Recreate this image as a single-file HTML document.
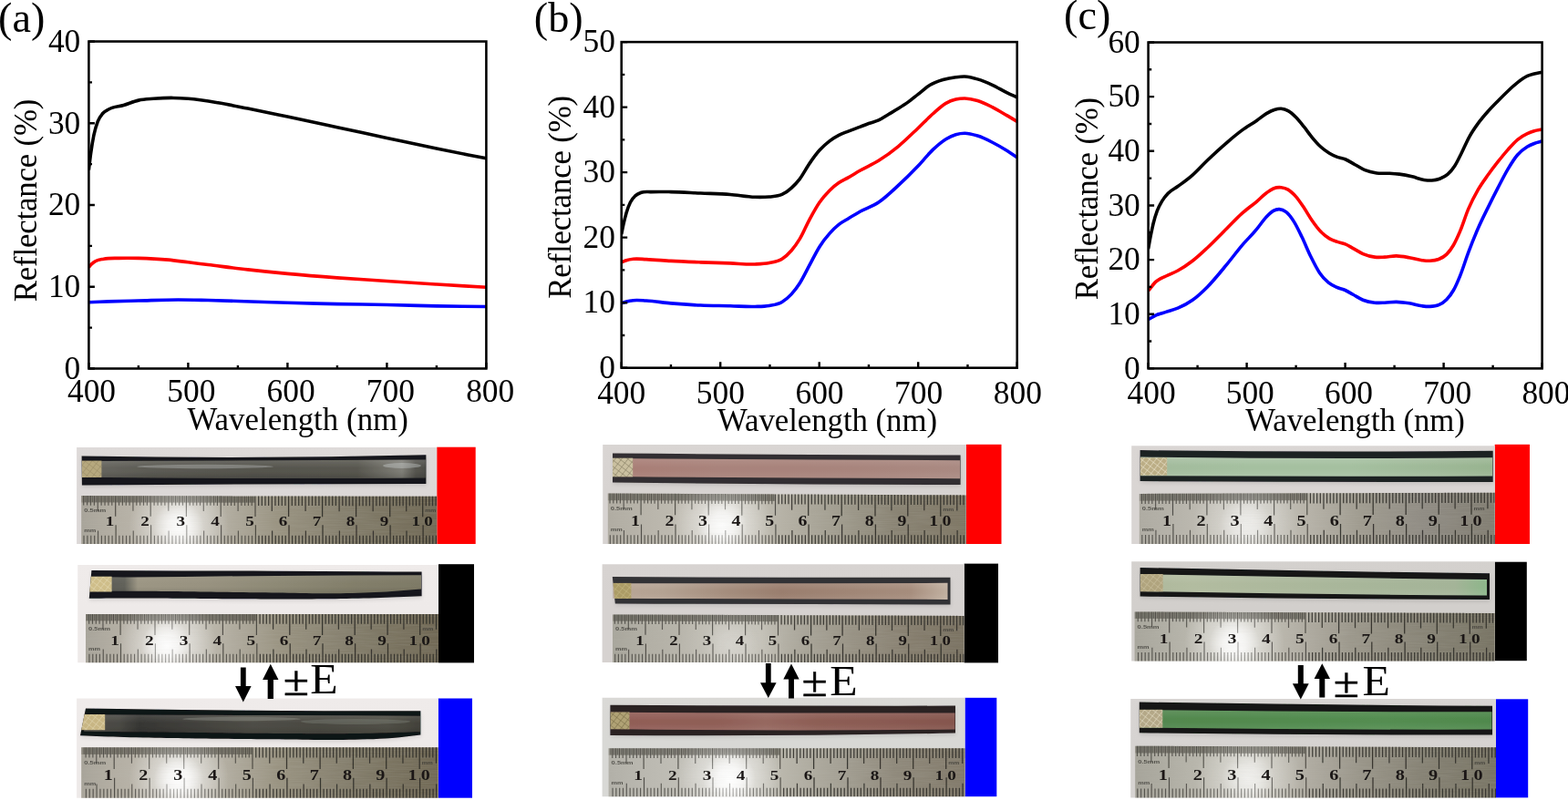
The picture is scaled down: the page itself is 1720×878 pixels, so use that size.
<!DOCTYPE html>
<html lang="en"><head><meta charset="utf-8"><title>Reflectance spectra and photographs</title>
<style>html,body{margin:0;padding:0;background:#fff;}body{width:1720px;height:878px;overflow:hidden;}svg{display:block;font-family:"Liberation Serif","DejaVu Serif",serif;}</style>
</head><body>
<svg width="1720" height="878" viewBox="0 0 1720 878">
<defs>
<filter id="soft" x="-2%" y="-5%" width="104%" height="110%"><feGaussianBlur stdDeviation="0.55"/></filter>
<filter id="grain" x="0" y="0" width="100%" height="100%"><feTurbulence type="fractalNoise" baseFrequency="0.035 0.9" numOctaves="2" seed="7" result="n"/><feColorMatrix in="n" type="matrix" values="0 0 0 0 0.5  0 0 0 0 0.5  0 0 0 0 0.45  0 0 0 1.6 -0.55"/><feComposite in2="SourceGraphic" operator="in"/></filter>
<filter id="shadow" x="-5%" y="-30%" width="110%" height="160%"><feGaussianBlur stdDeviation="2.2"/></filter>
<linearGradient id="bgp0" x1="0" y1="0" x2="0" y2="1"><stop offset="0" stop-color="#dedad9"/><stop offset="0.45" stop-color="#dcd8d7"/><stop offset="1" stop-color="#dcd8d7"/></linearGradient><linearGradient id="rgp0" gradientUnits="userSpaceOnUse" x1="89.2" y1="0" x2="479.2" y2="0"><stop offset="0" stop-color="#a8a49a"/><stop offset="0.08" stop-color="#b2ada2"/><stop offset="0.2" stop-color="#bcb7ac"/><stop offset="0.3" stop-color="#c4c0b6"/><stop offset="0.42" stop-color="#b0ab9e"/><stop offset="0.55" stop-color="#9a9482"/><stop offset="0.75" stop-color="#847e6c"/><stop offset="0.9" stop-color="#78715e"/><stop offset="1" stop-color="#706854"/></linearGradient><radialGradient id="rsp0" gradientUnits="userSpaceOnUse" cx="196" cy="578.55" r="55" gradientTransform="translate(196,578.55) scale(1,1.05) translate(-196,-578.55)"><stop offset="0" stop-color="#fff" stop-opacity="0.9"/><stop offset="0.22" stop-color="#fff" stop-opacity="0.72"/><stop offset="0.5" stop-color="#fff" stop-opacity="0.27"/><stop offset="1" stop-color="#fff" stop-opacity="0"/></radialGradient><linearGradient id="inp0" gradientUnits="userSpaceOnUse" x1="89.6" y1="0" x2="467.4" y2="0"><stop offset="0" stop-color="#6a6962"/><stop offset="0.08" stop-color="#64635c"/><stop offset="0.2" stop-color="#5c5b54"/><stop offset="0.5" stop-color="#56554e"/><stop offset="0.8" stop-color="#58574f"/><stop offset="0.93" stop-color="#807f78"/><stop offset="0.97" stop-color="#56554f"/><stop offset="1" stop-color="#4e4d48"/></linearGradient><linearGradient id="vsp0" x1="0" y1="0" x2="0" y2="1"><stop offset="0" stop-color="#fff" stop-opacity="0.12"/><stop offset="0.45" stop-color="#fff" stop-opacity="0"/><stop offset="0.62" stop-color="#000" stop-opacity="0"/><stop offset="1" stop-color="#000" stop-opacity="0.14"/></linearGradient><pattern id="meshp0" patternUnits="userSpaceOnUse" width="5.5" height="5.5" patternTransform="rotate(38)"><rect width="5.5" height="5.5" fill="#b6a87e"/><path d="M0,0H5.5M0,0V5.5" stroke="#8a7c58" stroke-width="1" opacity="0.7"/></pattern>
<linearGradient id="bgp1" x1="0" y1="0" x2="0" y2="1"><stop offset="0" stop-color="#efebea"/><stop offset="0.45" stop-color="#eeeae9"/><stop offset="1" stop-color="#eeeae9"/></linearGradient><linearGradient id="rgp1" gradientUnits="userSpaceOnUse" x1="94" y1="0" x2="481" y2="0"><stop offset="0" stop-color="#a8a49a"/><stop offset="0.08" stop-color="#b2ada2"/><stop offset="0.2" stop-color="#bcb7ac"/><stop offset="0.3" stop-color="#c4c0b6"/><stop offset="0.42" stop-color="#b0ab9e"/><stop offset="0.55" stop-color="#9a9482"/><stop offset="0.75" stop-color="#847e6c"/><stop offset="0.9" stop-color="#78715e"/><stop offset="1" stop-color="#706854"/></linearGradient><radialGradient id="rsp1" gradientUnits="userSpaceOnUse" cx="183" cy="708.6" r="55" gradientTransform="translate(183,708.6) scale(1,1.05) translate(-183,-708.6)"><stop offset="0" stop-color="#fff" stop-opacity="0.95"/><stop offset="0.22" stop-color="#fff" stop-opacity="0.76"/><stop offset="0.5" stop-color="#fff" stop-opacity="0.28"/><stop offset="1" stop-color="#fff" stop-opacity="0"/></radialGradient><linearGradient id="inp1" gradientUnits="userSpaceOnUse" x1="100.4" y1="0" x2="462.6" y2="0"><stop offset="0" stop-color="#5e5e58"/><stop offset="0.1" stop-color="#62625a"/><stop offset="0.14" stop-color="#9c9684"/><stop offset="0.35" stop-color="#989280"/><stop offset="0.55" stop-color="#8e8a76"/><stop offset="0.8" stop-color="#827e6a"/><stop offset="1" stop-color="#7e7a66"/></linearGradient><linearGradient id="vsp1" x1="0" y1="0" x2="0" y2="1"><stop offset="0" stop-color="#fff" stop-opacity="0.06"/><stop offset="0.45" stop-color="#fff" stop-opacity="0"/><stop offset="0.62" stop-color="#000" stop-opacity="0"/><stop offset="1" stop-color="#000" stop-opacity="0.1"/></linearGradient><pattern id="meshp1" patternUnits="userSpaceOnUse" width="5.5" height="5.5" patternTransform="rotate(38)"><rect width="5.5" height="5.5" fill="#cfbe8a"/><path d="M0,0H5.5M0,0V5.5" stroke="#f6f0d8" stroke-width="1" opacity="0.55"/></pattern>
<linearGradient id="bgp2" x1="0" y1="0" x2="0" y2="1"><stop offset="0" stop-color="#efebea"/><stop offset="0.45" stop-color="#eeeae9"/><stop offset="1" stop-color="#eeeae9"/></linearGradient><linearGradient id="rgp2" gradientUnits="userSpaceOnUse" x1="89.2" y1="0" x2="480.7" y2="0"><stop offset="0" stop-color="#a8a49a"/><stop offset="0.08" stop-color="#b2ada2"/><stop offset="0.2" stop-color="#bcb7ac"/><stop offset="0.3" stop-color="#c4c0b6"/><stop offset="0.42" stop-color="#b0ab9e"/><stop offset="0.55" stop-color="#9a9482"/><stop offset="0.75" stop-color="#847e6c"/><stop offset="0.9" stop-color="#78715e"/><stop offset="1" stop-color="#706854"/></linearGradient><radialGradient id="rsp2" gradientUnits="userSpaceOnUse" cx="196" cy="856" r="55" gradientTransform="translate(196,856) scale(1,1.05) translate(-196,-856)"><stop offset="0" stop-color="#fff" stop-opacity="0.95"/><stop offset="0.22" stop-color="#fff" stop-opacity="0.76"/><stop offset="0.5" stop-color="#fff" stop-opacity="0.28"/><stop offset="1" stop-color="#fff" stop-opacity="0"/></radialGradient><linearGradient id="inp2" gradientUnits="userSpaceOnUse" x1="94" y1="0" x2="461.4" y2="0"><stop offset="0" stop-color="#4e4d47"/><stop offset="0.1" stop-color="#4a4944"/><stop offset="0.16" stop-color="#363633"/><stop offset="0.3" stop-color="#403f3b"/><stop offset="0.5" stop-color="#4e4d46"/><stop offset="0.7" stop-color="#4a4942"/><stop offset="0.9" stop-color="#504f46"/><stop offset="1" stop-color="#42413a"/></linearGradient><linearGradient id="vsp2" x1="0" y1="0" x2="0" y2="1"><stop offset="0" stop-color="#fff" stop-opacity="0.1"/><stop offset="0.45" stop-color="#fff" stop-opacity="0"/><stop offset="0.62" stop-color="#000" stop-opacity="0"/><stop offset="1" stop-color="#000" stop-opacity="0.12"/></linearGradient><pattern id="meshp2" patternUnits="userSpaceOnUse" width="5.5" height="5.5" patternTransform="rotate(38)"><rect width="5.5" height="5.5" fill="#c8b684"/><path d="M0,0H5.5M0,0V5.5" stroke="#f4ecd0" stroke-width="1" opacity="0.6"/></pattern>
<linearGradient id="bgp3" x1="0" y1="0" x2="0" y2="1"><stop offset="0" stop-color="#d9d5d3"/><stop offset="0.45" stop-color="#d7d3d1"/><stop offset="1" stop-color="#d7d3d1"/></linearGradient><linearGradient id="rgp3" gradientUnits="userSpaceOnUse" x1="666.8" y1="0" x2="1059.7" y2="0"><stop offset="0" stop-color="#b0aca2"/><stop offset="0.1" stop-color="#b8b4aa"/><stop offset="0.25" stop-color="#c2beb4"/><stop offset="0.35" stop-color="#cac7bd"/><stop offset="0.5" stop-color="#b4b0a4"/><stop offset="0.65" stop-color="#a09c8e"/><stop offset="0.8" stop-color="#8a8474"/><stop offset="1" stop-color="#7e7664"/></linearGradient><radialGradient id="rsp3" gradientUnits="userSpaceOnUse" cx="792" cy="577.25" r="55" gradientTransform="translate(792,577.25) scale(1,1.05) translate(-792,-577.25)"><stop offset="0" stop-color="#fff" stop-opacity="0.9"/><stop offset="0.22" stop-color="#fff" stop-opacity="0.72"/><stop offset="0.5" stop-color="#fff" stop-opacity="0.27"/><stop offset="1" stop-color="#fff" stop-opacity="0"/></radialGradient><linearGradient id="inp3" gradientUnits="userSpaceOnUse" x1="672" y1="0" x2="1053.6" y2="0"><stop offset="0" stop-color="#a97d76"/><stop offset="0.12" stop-color="#a98078"/><stop offset="0.3" stop-color="#a9837b"/><stop offset="0.5" stop-color="#a8837b"/><stop offset="0.7" stop-color="#a8857d"/><stop offset="1" stop-color="#aa8a82"/></linearGradient><linearGradient id="vsp3" x1="0" y1="0" x2="0" y2="1"><stop offset="0" stop-color="#fff" stop-opacity="0.1"/><stop offset="0.45" stop-color="#fff" stop-opacity="0"/><stop offset="0.62" stop-color="#fff" stop-opacity="0"/><stop offset="1" stop-color="#fff" stop-opacity="0.07"/></linearGradient><pattern id="meshp3" patternUnits="userSpaceOnUse" width="5.5" height="5.5" patternTransform="rotate(38)"><rect width="5.5" height="5.5" fill="#cac0a0"/><path d="M0,0H5.5M0,0V5.5" stroke="#5a5038" stroke-width="0.9" opacity="0.7"/></pattern>
<linearGradient id="bgp4" x1="0" y1="0" x2="0" y2="1"><stop offset="0" stop-color="#d7d3d1"/><stop offset="0.45" stop-color="#d6d2d0"/><stop offset="1" stop-color="#d6d2d0"/></linearGradient><linearGradient id="rgp4" gradientUnits="userSpaceOnUse" x1="672" y1="0" x2="1057.7" y2="0"><stop offset="0" stop-color="#a8a69c"/><stop offset="0.1" stop-color="#b2afa5"/><stop offset="0.3" stop-color="#bebbb1"/><stop offset="0.42" stop-color="#c0bdb3"/><stop offset="0.55" stop-color="#a8a498"/><stop offset="0.7" stop-color="#969082"/><stop offset="0.85" stop-color="#867e6e"/><stop offset="1" stop-color="#7a7262"/></linearGradient><radialGradient id="rsp4" gradientUnits="userSpaceOnUse" cx="802" cy="708.7" r="60" gradientTransform="translate(802,708.7) scale(1,1.05) translate(-802,-708.7)"><stop offset="0" stop-color="#fff" stop-opacity="0.25"/><stop offset="0.22" stop-color="#fff" stop-opacity="0.2"/><stop offset="0.5" stop-color="#fff" stop-opacity="0.07"/><stop offset="1" stop-color="#fff" stop-opacity="0"/></radialGradient><linearGradient id="inp4" gradientUnits="userSpaceOnUse" x1="671.8" y1="0" x2="1042.5" y2="0"><stop offset="0" stop-color="#b8a696"/><stop offset="0.15" stop-color="#b4a292"/><stop offset="0.35" stop-color="#a48c7c"/><stop offset="0.5" stop-color="#9a7e6e"/><stop offset="0.7" stop-color="#a08676"/><stop offset="0.88" stop-color="#a68d7d"/><stop offset="1" stop-color="#c4b4a4"/></linearGradient><linearGradient id="vsp4" x1="0" y1="0" x2="0" y2="1"><stop offset="0" stop-color="#fff" stop-opacity="0.1"/><stop offset="0.45" stop-color="#fff" stop-opacity="0"/><stop offset="0.62" stop-color="#fff" stop-opacity="0"/><stop offset="1" stop-color="#fff" stop-opacity="0.07"/></linearGradient><pattern id="meshp4" patternUnits="userSpaceOnUse" width="5.5" height="5.5" patternTransform="rotate(38)"><rect width="5.5" height="5.5" fill="#ac9c66"/><path d="M0,0H5.5M0,0V5.5" stroke="#d8cc98" stroke-width="1" opacity="0.6"/></pattern>
<linearGradient id="bgp5" x1="0" y1="0" x2="0" y2="1"><stop offset="0" stop-color="#dad9d6"/><stop offset="0.45" stop-color="#d8d8d5"/><stop offset="1" stop-color="#d8d8d5"/></linearGradient><linearGradient id="rgp5" gradientUnits="userSpaceOnUse" x1="667.6" y1="0" x2="1058.5" y2="0"><stop offset="0" stop-color="#b2b0a8"/><stop offset="0.1" stop-color="#bab8b0"/><stop offset="0.25" stop-color="#c4c2ba"/><stop offset="0.35" stop-color="#cccac2"/><stop offset="0.5" stop-color="#b8b5aa"/><stop offset="0.65" stop-color="#a4a094"/><stop offset="0.8" stop-color="#908a7c"/><stop offset="1" stop-color="#827a6a"/></linearGradient><radialGradient id="rsp5" gradientUnits="userSpaceOnUse" cx="800" cy="855.75" r="58" gradientTransform="translate(800,855.75) scale(1,1.05) translate(-800,-855.75)"><stop offset="0" stop-color="#fff" stop-opacity="0.97"/><stop offset="0.22" stop-color="#fff" stop-opacity="0.78"/><stop offset="0.5" stop-color="#fff" stop-opacity="0.29"/><stop offset="1" stop-color="#fff" stop-opacity="0"/></radialGradient><linearGradient id="inp5" gradientUnits="userSpaceOnUse" x1="669.4" y1="0" x2="1048" y2="0"><stop offset="0" stop-color="#905d56"/><stop offset="0.12" stop-color="#915e57"/><stop offset="0.3" stop-color="#8f5e56"/><stop offset="0.45" stop-color="#966860"/><stop offset="0.6" stop-color="#8d5e55"/><stop offset="0.8" stop-color="#8a5a52"/><stop offset="1" stop-color="#85564e"/></linearGradient><linearGradient id="vsp5" x1="0" y1="0" x2="0" y2="1"><stop offset="0" stop-color="#fff" stop-opacity="0.1"/><stop offset="0.45" stop-color="#fff" stop-opacity="0"/><stop offset="0.62" stop-color="#fff" stop-opacity="0"/><stop offset="1" stop-color="#fff" stop-opacity="0.07"/></linearGradient><pattern id="meshp5" patternUnits="userSpaceOnUse" width="5.5" height="5.5" patternTransform="rotate(38)"><rect width="5.5" height="5.5" fill="#b0a274"/><path d="M0,0H5.5M0,0V5.5" stroke="#5c5030" stroke-width="1" opacity="0.7"/></pattern>
<linearGradient id="bgp6" x1="0" y1="0" x2="0" y2="1"><stop offset="0" stop-color="#dad6d4"/><stop offset="0.45" stop-color="#d9d5d3"/><stop offset="1" stop-color="#d9d5d3"/></linearGradient><linearGradient id="rgp6" gradientUnits="userSpaceOnUse" x1="1249.8" y1="0" x2="1639.7" y2="0"><stop offset="0" stop-color="#aeaba2"/><stop offset="0.1" stop-color="#b6b3aa"/><stop offset="0.22" stop-color="#c2bfb6"/><stop offset="0.32" stop-color="#cccac2"/><stop offset="0.48" stop-color="#b6b2a8"/><stop offset="0.62" stop-color="#a09c90"/><stop offset="0.8" stop-color="#908c84"/><stop offset="1" stop-color="#827e72"/></linearGradient><radialGradient id="rsp6" gradientUnits="userSpaceOnUse" cx="1366" cy="577.45" r="58" gradientTransform="translate(1366,577.45) scale(1,1.05) translate(-1366,-577.45)"><stop offset="0" stop-color="#fff" stop-opacity="0.55"/><stop offset="0.22" stop-color="#fff" stop-opacity="0.44"/><stop offset="0.5" stop-color="#fff" stop-opacity="0.17"/><stop offset="1" stop-color="#fff" stop-opacity="0"/></radialGradient><linearGradient id="inp6" gradientUnits="userSpaceOnUse" x1="1250.6" y1="0" x2="1637.7" y2="0"><stop offset="0" stop-color="#a2ba9c"/><stop offset="0.3" stop-color="#a5c0a0"/><stop offset="0.6" stop-color="#a5c0a0"/><stop offset="0.85" stop-color="#9eb897"/><stop offset="1" stop-color="#98b490"/></linearGradient><linearGradient id="vsp6" x1="0" y1="0" x2="0" y2="1"><stop offset="0" stop-color="#fff" stop-opacity="0.16"/><stop offset="0.45" stop-color="#fff" stop-opacity="0"/><stop offset="0.62" stop-color="#fff" stop-opacity="0"/><stop offset="1" stop-color="#fff" stop-opacity="0.1"/></linearGradient><pattern id="meshp6" patternUnits="userSpaceOnUse" width="5.5" height="5.5" patternTransform="rotate(38)"><rect width="5.5" height="5.5" fill="#bcae86"/><path d="M0,0H5.5M0,0V5.5" stroke="#f6f2e0" stroke-width="0.9" opacity="0.9"/></pattern>
<linearGradient id="bgp7" x1="0" y1="0" x2="0" y2="1"><stop offset="0" stop-color="#d4d1ce"/><stop offset="0.45" stop-color="#d2cfcc"/><stop offset="1" stop-color="#d2cfcc"/></linearGradient><linearGradient id="rgp7" gradientUnits="userSpaceOnUse" x1="1244.6" y1="0" x2="1639.7" y2="0"><stop offset="0" stop-color="#a8a69c"/><stop offset="0.1" stop-color="#b2b0a6"/><stop offset="0.2" stop-color="#bebcb2"/><stop offset="0.3" stop-color="#c8c6bc"/><stop offset="0.45" stop-color="#b4b0a6"/><stop offset="0.6" stop-color="#9c988c"/><stop offset="0.8" stop-color="#888476"/><stop offset="1" stop-color="#787464"/></linearGradient><radialGradient id="rsp7" gradientUnits="userSpaceOnUse" cx="1354" cy="706.5" r="55" gradientTransform="translate(1354,706.5) scale(1,1.05) translate(-1354,-706.5)"><stop offset="0" stop-color="#fff" stop-opacity="0.9"/><stop offset="0.22" stop-color="#fff" stop-opacity="0.72"/><stop offset="0.5" stop-color="#fff" stop-opacity="0.27"/><stop offset="1" stop-color="#fff" stop-opacity="0"/></radialGradient><linearGradient id="inp7" gradientUnits="userSpaceOnUse" x1="1250.6" y1="0" x2="1634" y2="0"><stop offset="0" stop-color="#aeb89c"/><stop offset="0.15" stop-color="#b2bca0"/><stop offset="0.4" stop-color="#acb89c"/><stop offset="0.6" stop-color="#a8b69a"/><stop offset="0.9" stop-color="#a4b498"/><stop offset="1" stop-color="#8ab688"/></linearGradient><linearGradient id="vsp7" x1="0" y1="0" x2="0" y2="1"><stop offset="0" stop-color="#fff" stop-opacity="0.1"/><stop offset="0.45" stop-color="#fff" stop-opacity="0"/><stop offset="0.62" stop-color="#fff" stop-opacity="0"/><stop offset="1" stop-color="#fff" stop-opacity="0.07"/></linearGradient><pattern id="meshp7" patternUnits="userSpaceOnUse" width="5.5" height="5.5" patternTransform="rotate(38)"><rect width="5.5" height="5.5" fill="#b0a47e"/><path d="M0,0H5.5M0,0V5.5" stroke="#e4dcc0" stroke-width="1" opacity="0.55"/></pattern>
<linearGradient id="bgp8" x1="0" y1="0" x2="0" y2="1"><stop offset="0" stop-color="#d8d5d3"/><stop offset="0.45" stop-color="#d6d3d1"/><stop offset="1" stop-color="#d6d3d1"/></linearGradient><linearGradient id="rgp8" gradientUnits="userSpaceOnUse" x1="1245.2" y1="0" x2="1641" y2="0"><stop offset="0" stop-color="#a6a49a"/><stop offset="0.1" stop-color="#b0aea4"/><stop offset="0.22" stop-color="#bebcb2"/><stop offset="0.33" stop-color="#cac8be"/><stop offset="0.48" stop-color="#b0aca2"/><stop offset="0.62" stop-color="#9a968a"/><stop offset="0.8" stop-color="#868274"/><stop offset="1" stop-color="#787464"/></linearGradient><radialGradient id="rsp8" gradientUnits="userSpaceOnUse" cx="1369" cy="855.05" r="58" gradientTransform="translate(1369,855.05) scale(1,1.05) translate(-1369,-855.05)"><stop offset="0" stop-color="#fff" stop-opacity="0.6"/><stop offset="0.22" stop-color="#fff" stop-opacity="0.48"/><stop offset="0.5" stop-color="#fff" stop-opacity="0.18"/><stop offset="1" stop-color="#fff" stop-opacity="0"/></radialGradient><linearGradient id="inp8" gradientUnits="userSpaceOnUse" x1="1249.8" y1="0" x2="1637" y2="0"><stop offset="0" stop-color="#548651"/><stop offset="0.15" stop-color="#52894e"/><stop offset="0.4" stop-color="#528b4f"/><stop offset="0.7" stop-color="#548d51"/><stop offset="1" stop-color="#50894d"/></linearGradient><linearGradient id="vsp8" x1="0" y1="0" x2="0" y2="1"><stop offset="0" stop-color="#fff" stop-opacity="0.1"/><stop offset="0.45" stop-color="#fff" stop-opacity="0"/><stop offset="0.62" stop-color="#fff" stop-opacity="0"/><stop offset="1" stop-color="#fff" stop-opacity="0.07"/></linearGradient><pattern id="meshp8" patternUnits="userSpaceOnUse" width="5.5" height="5.5" patternTransform="rotate(38)"><rect width="5.5" height="5.5" fill="#b4a888"/><path d="M0,0H5.5M0,0V5.5" stroke="#f0ead4" stroke-width="1" opacity="0.85"/></pattern>
</defs>
<rect width="1720" height="878" fill="#fff"/>
<g>
<rect x="479.2" y="490.7" width="42.5" height="106.3" fill="#ff0000"/>
<clipPath id="cp0"><rect x="84.1" y="491.1" width="395.1" height="105.9"/></clipPath>
<g clip-path="url(#cp0)">
<rect x="82.1" y="489.1" width="399.1" height="109.9" fill="url(#bgp0)"/>
<g filter="url(#soft)">
<path d="M89.2,544.1L482.2,544.8L482.2,600L89.2,600Z" fill="url(#rgp0)"/>
<path d="M89.2,544.1L482.2,544.8L482.2,600L89.2,600Z" fill="url(#rsp0)"/>
<path d="M89.2,544.1L482.2,544.8L482.2,600L89.2,600Z" fill="#000" filter="url(#grain)" opacity="0.16"/>
<path d="M89.2,544.1L280,544.44L280,551.8L89.2,551.46Z" fill="#4a463c" opacity="0.30"/>
<path d="M93.65,544.11v7.09M97.54,544.11v7.09M101.42,544.12v7.09M105.31,544.13v7.09M109.2,544.14v7.09M113.09,544.14v7.09M116.98,544.15v7.09M120.87,544.16v7.09M124.76,544.16v7.09M128.62,544.17v7.09M132.47,544.18v7.09M136.32,544.18v7.09M140.18,544.19v7.09M144.03,544.2v7.09M147.88,544.21v7.09M151.72,544.21v7.09M155.57,544.22v7.09M159.43,544.23v7.09M163.28,544.23v7.09M167.16,544.24v7.09M171.08,544.25v7.09M175,544.25v7.09M178.92,544.26v7.09M182.84,544.27v7.09M186.76,544.28v7.09M190.68,544.28v7.09M194.6,544.29v7.09M198.52,544.3v7.09M202.44,544.3v7.09M206.29,544.31v7.09M210.07,544.32v7.09M213.85,544.32v7.09M217.63,544.33v7.09M221.41,544.34v7.09M225.19,544.34v7.09M228.97,544.35v7.09M232.75,544.36v7.09M236.53,544.36v7.09M240.31,544.37v7.09M244.09,544.38v7.09M247.87,544.38v7.09M251.65,544.39v7.09M255.43,544.4v7.09M259.21,544.41v7.09M262.99,544.41v7.09M266.77,544.42v7.09M270.55,544.43v7.09M274.33,544.43v7.09M278.11,544.44v7.09" stroke="#2c2b26" stroke-width="1.0" opacity="0.5" fill="none"/>
<path d="M91.7,544.1v10.51M92,598v-10.35M95.59,544.11v10.51M95.89,598v-10.35M99.48,544.12v10.51M99.78,598v-10.35M103.37,544.13v10.51M103.67,598v-10.35M111.15,544.14v10.51M111.45,598v-10.35M115.03,544.15v10.51M115.33,598v-10.35M118.92,544.15v10.51M119.22,598v-10.35M122.81,544.16v10.51M123.11,598v-10.35M130.55,544.17v10.51M130.85,598v-10.35M134.4,544.18v10.51M134.7,598v-10.35M138.25,544.19v10.51M138.55,598v-10.35M142.1,544.19v10.51M142.4,598v-10.35M149.8,544.21v10.51M150.1,598v-10.35M153.65,544.22v10.51M153.95,598v-10.35M157.5,544.22v10.51M157.8,598v-10.35M161.35,544.23v10.51M161.65,598v-10.35M169.12,544.24v10.51M169.42,598v-10.35M173.04,544.25v10.51M173.34,598v-10.35M176.96,544.26v10.51M177.26,598v-10.35M180.88,544.26v10.51M181.18,598v-10.35M188.72,544.28v10.51M189.02,598v-10.35M192.64,544.29v10.51M192.94,598v-10.35M196.56,544.29v10.51M196.86,598v-10.35M200.48,544.3v10.51M200.78,598v-10.35M208.18,544.31v10.51M208.48,598v-10.35M211.96,544.32v10.51M212.26,598v-10.35M215.74,544.33v10.51M216.04,598v-10.35M219.52,544.33v10.51M219.82,598v-10.35M227.08,544.35v10.51M227.38,598v-10.35M230.86,544.35v10.51M231.16,598v-10.35M234.64,544.36v10.51M234.94,598v-10.35M238.42,544.37v10.51M238.72,598v-10.35M245.98,544.38v10.51M246.28,598v-10.35M249.76,544.39v10.51M250.06,598v-10.35M253.54,544.39v10.51M253.84,598v-10.35M257.32,544.4v10.51M257.62,598v-10.35M264.88,544.42v10.51M265.18,598v-10.35M268.66,544.42v10.51M268.96,598v-10.35M272.44,544.43v10.51M272.74,598v-10.35M276.22,544.44v10.51M276.52,598v-10.35M107.26,544.13v16.55M107.56,598v-15.45M145.95,544.2v16.55M146.25,598v-15.45M184.8,544.27v16.55M185.1,598v-15.45M223.3,544.34v16.55M223.6,598v-15.45M261.1,544.41v16.55M261.4,598v-15.45" stroke="#2c2b26" stroke-width="1.15" opacity="0.66" fill="none"/>
<path d="M126.7,544.17v22.6M127.1,598v-21.76M165.2,544.24v22.6M165.6,598v-21.76M204.4,544.31v22.6M204.8,598v-21.76M242.2,544.37v22.6M242.6,598v-21.76M280,544.44v22.6M280.4,598v-21.76" stroke="#2c2b26" stroke-width="1.15" opacity="0.74" fill="none"/>
<path d="M283.66,544.45v10.51M283.96,598v-10.35M287.32,544.46v10.51M287.62,598v-10.35M290.98,544.46v10.51M291.28,598v-10.35M294.64,544.47v10.51M294.94,598v-10.35M301.96,544.48v10.51M302.26,598v-10.35M305.62,544.49v10.51M305.92,598v-10.35M309.28,544.5v10.51M309.58,598v-10.35M312.94,544.5v10.51M313.24,598v-10.35M320.3,544.51v10.51M320.6,598v-10.35M324,544.52v10.51M324.3,598v-10.35M327.7,544.53v10.51M328,598v-10.35M331.4,544.53v10.51M331.7,598v-10.35M338.8,544.55v10.51M339.1,598v-10.35M342.5,544.55v10.51M342.8,598v-10.35M346.2,544.56v10.51M346.5,598v-10.35M349.9,544.57v10.51M350.2,598v-10.35M357.3,544.58v10.51M357.6,598v-10.35M361,544.59v10.51M361.3,598v-10.35M364.7,544.59v10.51M365,598v-10.35M368.4,544.6v10.51M368.7,598v-10.35M375.8,544.61v10.51M376.1,598v-10.35M379.5,544.62v10.51M379.8,598v-10.35M383.2,544.63v10.51M383.5,598v-10.35M386.9,544.63v10.51M387.2,598v-10.35M394.31,544.65v10.51M394.61,598v-10.35M398.02,544.65v10.51M398.32,598v-10.35M401.73,544.66v10.51M402.03,598v-10.35M405.44,544.67v10.51M405.74,598v-10.35M412.86,544.68v10.51M413.16,598v-10.35M416.57,544.69v10.51M416.87,598v-10.35M420.28,544.69v10.51M420.58,598v-10.35M423.99,544.7v10.51M424.29,598v-10.35M431.3,544.71v10.51M431.6,598v-10.35M434.9,544.72v10.51M435.2,598v-10.35M438.5,544.73v10.51M438.8,598v-10.35M442.1,544.73v10.51M442.4,598v-10.35M449.3,544.75v10.51M449.6,598v-10.35M452.9,544.75v10.51M453.2,598v-10.35M456.5,544.76v10.51M456.8,598v-10.35M460.1,544.77v10.51M460.4,598v-10.35M467.3,544.78v10.51M467.6,598v-10.35M470.9,544.79v10.51M471.2,598v-10.35M474.5,544.79v10.51M474.8,598v-10.35M478.1,544.8v10.51M478.4,598v-10.35M298.3,544.48v16.55M298.6,598v-15.45M335.1,544.54v16.55M335.4,598v-15.45M372.1,544.61v16.55M372.4,598v-15.45M409.15,544.67v16.55M409.45,598v-15.45M445.7,544.74v16.55M446,598v-15.45" stroke="#2c2b26" stroke-width="1.25" opacity="0.86" fill="none"/>
<path d="M316.6,544.51v22.6M317,598v-21.76M353.6,544.57v22.6M354,598v-21.76M390.6,544.64v22.6M391,598v-21.76M427.7,544.71v22.6M428.1,598v-21.76M463.7,544.77v22.6M464.1,598v-21.76" stroke="#2c2b26" stroke-width="1.25" opacity="0.9" fill="none"/>
<path d="M89.2,544.1L482.2,544.8L482.2,600L89.2,600Z" fill="url(#rsp0)" opacity="0.55"/>
<g font-family="'Liberation Serif','DejaVu Serif',serif" font-weight="bold" font-size="15.4" fill="#1a1917">
<text transform="translate(125.4,577.4) scale(1.24,1)" text-anchor="end">1</text>
<text transform="translate(163.9,577.4) scale(1.24,1)" text-anchor="end">2</text>
<text transform="translate(203.1,577.4) scale(1.24,1)" text-anchor="end">3</text>
<text transform="translate(240.9,577.4) scale(1.24,1)" text-anchor="end">4</text>
<text transform="translate(278.7,577.4) scale(1.24,1)" text-anchor="end">5</text>
<text transform="translate(315.3,577.4) scale(1.24,1)" text-anchor="end">6</text>
<text transform="translate(352.3,577.4) scale(1.24,1)" text-anchor="end">7</text>
<text transform="translate(389.3,577.4) scale(1.24,1)" text-anchor="end">8</text>
<text transform="translate(426.4,577.4) scale(1.24,1)" text-anchor="end">9</text>
<text transform="translate(461.1,577.4) scale(1.24,1)" text-anchor="end">1</text>
<text transform="translate(465.3,577.4) scale(1.24,1)">0</text>
</g>
<g font-family="'Liberation Sans',sans-serif" font-weight="bold" font-size="5.2" fill="#3a3934" opacity="0.8">
<text x="92.2" y="561.79" textLength="24" lengthAdjust="spacingAndGlyphs">0.5mm</text>
<text x="92.2" y="583.86" textLength="13" lengthAdjust="spacingAndGlyphs">mm</text>
<text x="466.2" y="562.32" textLength="12" lengthAdjust="spacingAndGlyphs">mm</text>
</g>
<path d="M89.6,500.4Q278.5,503.85 467.4,499.3L467.4,531.1Q278.5,531.05 89.9,532.6Z" fill="#000" opacity="0.10" transform="translate(0.5,2.2)" filter="url(#shadow)"/>
<path d="M89.6,500.4Q278.5,503.85 467.4,499.3L467.4,531.1Q278.5,531.05 89.9,532.6Z" fill="#15161a"/>
<path d="M90.2,506Q278.5,505.4 466.9,504.4L466.9,524.4Q278.5,525.85 90.2,523.7Z" fill="url(#inp0)"/>
<path d="M90.2,506Q278.5,505.4 466.9,504.4L466.9,524.4Q278.5,525.85 90.2,523.7Z" fill="url(#vsp0)"/>
<ellipse cx="225" cy="512" rx="75" ry="2.2" fill="#c8cccc" opacity="0.35"/>
<ellipse cx="441" cy="511" rx="21" ry="3" fill="#d8dcdc" opacity="0.35"/>
<clipPath id="scp0"><path d="M89.6,500.4Q278.5,503.85 467.4,499.3L467.4,531.1Q278.5,531.05 89.9,532.6Z"/></clipPath>
<rect x="89.6" y="505.6" width="21.8" height="18.4" fill="url(#meshp0)" clip-path="url(#scp0)"/>
</g>
</g>
</g>
<g>
<rect x="481" y="619.2" width="39" height="108.2" fill="#000000"/>
<clipPath id="cp1"><rect x="85.2" y="620" width="395.8" height="107.2"/></clipPath>
<g clip-path="url(#cp1)">
<rect x="83.2" y="618" width="399.8" height="111.2" fill="url(#bgp1)"/>
<g filter="url(#soft)">
<path d="M94,674L484,674L484,730.2L94,730.2Z" fill="url(#rgp1)"/>
<path d="M94,674L484,674L484,730.2L94,730.2Z" fill="url(#rsp1)"/>
<path d="M94,674L484,674L484,730.2L94,730.2Z" fill="#000" filter="url(#grain)" opacity="0.16"/>
<path d="M94,674L281.4,674L281.4,681.45L94,681.45Z" fill="#4a463c" opacity="0.30"/>
<path d="M95.73,674v7.18M99.56,674v7.18M103.39,674v7.18M107.22,674v7.18M111.05,674v7.18M114.87,674v7.18M118.7,674v7.18M122.53,674v7.18M126.36,674v7.18M130.19,674v7.18M134,674v7.18M137.78,674v7.18M141.57,674v7.18M145.37,674v7.18M149.16,674v7.18M152.94,674v7.18M156.74,674v7.18M160.53,674v7.18M164.31,674v7.18M168.11,674v7.18M171.89,674v7.18M175.66,674v7.18M179.43,674v7.18M183.19,674v7.18M186.97,674v7.18M190.74,674v7.18M194.5,674v7.18M198.27,674v7.18M202.04,674v7.18M205.81,674v7.18M209.53,674v7.18M213.21,674v7.18M216.88,674v7.18M220.54,674v7.18M224.22,674v7.18M227.89,674v7.18M231.56,674v7.18M235.22,674v7.18M238.9,674v7.18M242.56,674v7.18M246.25,674v7.18M249.95,674v7.18M253.65,674v7.18M257.35,674v7.18M261.05,674v7.18M264.75,674v7.18M268.45,674v7.18M272.15,674v7.18M275.85,674v7.18M279.55,674v7.18" stroke="#2c2b26" stroke-width="1.0" opacity="0.5" fill="none"/>
<path d="M97.65,674v10.64M97.95,728.2v-10.47M101.48,674v10.64M101.78,728.2v-10.47M105.3,674v10.64M105.6,728.2v-10.47M109.13,674v10.64M109.43,728.2v-10.47M116.79,674v10.64M117.09,728.2v-10.47M120.62,674v10.64M120.92,728.2v-10.47M124.44,674v10.64M124.74,728.2v-10.47M128.27,674v10.64M128.57,728.2v-10.47M135.89,674v10.64M136.19,728.2v-10.47M139.68,674v10.64M139.98,728.2v-10.47M143.47,674v10.64M143.77,728.2v-10.47M147.26,674v10.64M147.56,728.2v-10.47M154.84,674v10.64M155.14,728.2v-10.47M158.63,674v10.64M158.93,728.2v-10.47M162.42,674v10.64M162.72,728.2v-10.47M166.21,674v10.64M166.51,728.2v-10.47M173.77,674v10.64M174.07,728.2v-10.47M177.54,674v10.64M177.84,728.2v-10.47M181.31,674v10.64M181.61,728.2v-10.47M185.08,674v10.64M185.38,728.2v-10.47M192.62,674v10.64M192.92,728.2v-10.47M196.39,674v10.64M196.69,728.2v-10.47M200.16,674v10.64M200.46,728.2v-10.47M203.93,674v10.64M204.23,728.2v-10.47M211.37,674v10.64M211.67,728.2v-10.47M215.04,674v10.64M215.34,728.2v-10.47M218.71,674v10.64M219.01,728.2v-10.47M222.38,674v10.64M222.68,728.2v-10.47M229.72,674v10.64M230.02,728.2v-10.47M233.39,674v10.64M233.69,728.2v-10.47M237.06,674v10.64M237.36,728.2v-10.47M240.73,674v10.64M241.03,728.2v-10.47M248.1,674v10.64M248.4,728.2v-10.47M251.8,674v10.64M252.1,728.2v-10.47M255.5,674v10.64M255.8,728.2v-10.47M259.2,674v10.64M259.5,728.2v-10.47M266.6,674v10.64M266.9,728.2v-10.47M270.3,674v10.64M270.6,728.2v-10.47M274,674v10.64M274.3,728.2v-10.47M277.7,674v10.64M278,728.2v-10.47M112.96,674v16.76M113.26,728.2v-15.63M151.05,674v16.76M151.35,728.2v-15.63M188.85,674v16.76M189.15,728.2v-15.63M226.05,674v16.76M226.35,728.2v-15.63M262.9,674v16.76M263.2,728.2v-15.63" stroke="#2c2b26" stroke-width="1.15" opacity="0.66" fill="none"/>
<path d="M132.1,674v22.88M132.5,728.2v-22.01M170,674v22.88M170.4,728.2v-22.01M207.7,674v22.88M208.1,728.2v-22.01M244.4,674v22.88M244.8,728.2v-22.01M281.4,674v22.88M281.8,728.2v-22.01" stroke="#2c2b26" stroke-width="1.15" opacity="0.74" fill="none"/>
<path d="M285.04,674v10.64M285.34,728.2v-10.47M288.68,674v10.64M288.98,728.2v-10.47M292.32,674v10.64M292.62,728.2v-10.47M295.96,674v10.64M296.26,728.2v-10.47M303.24,674v10.64M303.54,728.2v-10.47M306.88,674v10.64M307.18,728.2v-10.47M310.52,674v10.64M310.82,728.2v-10.47M314.16,674v10.64M314.46,728.2v-10.47M321.38,674v10.64M321.68,728.2v-10.47M324.96,674v10.64M325.26,728.2v-10.47M328.54,674v10.64M328.84,728.2v-10.47M332.12,674v10.64M332.42,728.2v-10.47M339.28,674v10.64M339.58,728.2v-10.47M342.86,674v10.64M343.16,728.2v-10.47M346.44,674v10.64M346.74,728.2v-10.47M350.02,674v10.64M350.32,728.2v-10.47M357.16,674v10.64M357.46,728.2v-10.47M360.72,674v10.64M361.02,728.2v-10.47M364.28,674v10.64M364.58,728.2v-10.47M367.84,674v10.64M368.14,728.2v-10.47M374.96,674v10.64M375.26,728.2v-10.47M378.52,674v10.64M378.82,728.2v-10.47M382.08,674v10.64M382.38,728.2v-10.47M385.64,674v10.64M385.94,728.2v-10.47M392.79,674v10.64M393.09,728.2v-10.47M396.38,674v10.64M396.68,728.2v-10.47M399.97,674v10.64M400.27,728.2v-10.47M403.56,674v10.64M403.86,728.2v-10.47M410.74,674v10.64M411.04,728.2v-10.47M414.33,674v10.64M414.63,728.2v-10.47M417.92,674v10.64M418.22,728.2v-10.47M421.51,674v10.64M421.81,728.2v-10.47M428.66,674v10.64M428.96,728.2v-10.47M432.22,674v10.64M432.52,728.2v-10.47M435.78,674v10.64M436.08,728.2v-10.47M439.34,674v10.64M439.64,728.2v-10.47M446.46,674v10.64M446.76,728.2v-10.47M450.02,674v10.64M450.32,728.2v-10.47M453.58,674v10.64M453.88,728.2v-10.47M457.14,674v10.64M457.44,728.2v-10.47M464.26,674v10.64M464.56,728.2v-10.47M467.82,674v10.64M468.12,728.2v-10.47M471.38,674v10.64M471.68,728.2v-10.47M474.94,674v10.64M475.24,728.2v-10.47M299.6,674v16.76M299.9,728.2v-15.63M335.7,674v16.76M336,728.2v-15.63M371.4,674v16.76M371.7,728.2v-15.63M407.15,674v16.76M407.45,728.2v-15.63M442.9,674v16.76M443.2,728.2v-15.63M478.5,674v16.76M478.8,728.2v-15.63" stroke="#2c2b26" stroke-width="1.25" opacity="0.86" fill="none"/>
<path d="M317.8,674v22.88M318.2,728.2v-22.01M353.6,674v22.88M354,728.2v-22.01M389.2,674v22.88M389.6,728.2v-22.01M425.1,674v22.88M425.5,728.2v-22.01M460.7,674v22.88M461.1,728.2v-22.01" stroke="#2c2b26" stroke-width="1.25" opacity="0.9" fill="none"/>
<path d="M94,674L484,674L484,730.2L94,730.2Z" fill="url(#rsp1)" opacity="0.55"/>
<g font-family="'Liberation Serif','DejaVu Serif',serif" font-weight="bold" font-size="15.59" fill="#1a1917">
<text transform="translate(130.8,707.6) scale(1.24,1)" text-anchor="end">1</text>
<text transform="translate(168.7,707.6) scale(1.24,1)" text-anchor="end">2</text>
<text transform="translate(206.4,707.6) scale(1.24,1)" text-anchor="end">3</text>
<text transform="translate(243.1,707.6) scale(1.24,1)" text-anchor="end">4</text>
<text transform="translate(280.1,707.6) scale(1.24,1)" text-anchor="end">5</text>
<text transform="translate(316.5,707.6) scale(1.24,1)" text-anchor="end">6</text>
<text transform="translate(352.3,707.6) scale(1.24,1)" text-anchor="end">7</text>
<text transform="translate(387.9,707.6) scale(1.24,1)" text-anchor="end">8</text>
<text transform="translate(423.8,707.6) scale(1.24,1)" text-anchor="end">9</text>
<text transform="translate(458.1,707.6) scale(1.24,1)" text-anchor="end">1</text>
<text transform="translate(462.3,707.6) scale(1.24,1)">0</text>
</g>
<g font-family="'Liberation Sans',sans-serif" font-weight="bold" font-size="5.2" fill="#3a3934" opacity="0.8">
<text x="97" y="691.56" textLength="24" lengthAdjust="spacingAndGlyphs">0.5mm</text>
<text x="97" y="713.9" textLength="13" lengthAdjust="spacingAndGlyphs">mm</text>
<text x="463.2" y="692.09" textLength="12" lengthAdjust="spacingAndGlyphs">mm</text>
</g>
<path d="M100.4,626C133.6,626.17 166.8,626.38 200,626.5C234.67,626.62 269.33,626.57 304,626.7C336,626.82 368,627.04 400,627.2C420.87,627.3 441.73,627.4 462.6,627.5 L462.6,654.2 L456.08,654.49 L449.56,654.78 L443.04,655.07 L436.52,655.34 L430,655.6 L423.78,655.82 L417.56,656.03 L411.33,656.23 L405.11,656.41 L398.89,656.57 L392.67,656.73 L386.44,656.86 L380.22,656.99 L374,657.1 L367.64,657.19 L361.27,657.27 L354.91,657.32 L348.55,657.35 L342.18,657.38 L335.82,657.39 L329.45,657.39 L323.09,657.39 L316.73,657.39 L310.36,657.39 L304,657.4 L297.96,657.4 L291.93,657.4 L285.89,657.39 L279.86,657.37 L273.82,657.34 L267.79,657.31 L261.75,657.27 L255.71,657.22 L249.68,657.18 L243.64,657.13 L237.61,657.07 L231.57,657.02 L225.54,656.96 L219.5,656.91 L213.46,656.85 L207.43,656.8 L201.39,656.75 L195.36,656.7 L189.32,656.65 L183.29,656.61 L177.25,656.57 L171.21,656.54 L165.18,656.51 L159.14,656.49 L153.11,656.48 L147.07,656.48 L141.04,656.48 L135,656.5 L128.8,656.53 L122.6,656.56 L116.4,656.59 L110.2,656.63 L104,656.67 L97.8,656.7 Z" fill="#000" opacity="0.10" transform="translate(0.5,2.2)" filter="url(#shadow)"/>
<path d="M100.4,626C133.6,626.17 166.8,626.38 200,626.5C234.67,626.62 269.33,626.57 304,626.7C336,626.82 368,627.04 400,627.2C420.87,627.3 441.73,627.4 462.6,627.5 L462.6,654.2 L456.08,654.49 L449.56,654.78 L443.04,655.07 L436.52,655.34 L430,655.6 L423.78,655.82 L417.56,656.03 L411.33,656.23 L405.11,656.41 L398.89,656.57 L392.67,656.73 L386.44,656.86 L380.22,656.99 L374,657.1 L367.64,657.19 L361.27,657.27 L354.91,657.32 L348.55,657.35 L342.18,657.38 L335.82,657.39 L329.45,657.39 L323.09,657.39 L316.73,657.39 L310.36,657.39 L304,657.4 L297.96,657.4 L291.93,657.4 L285.89,657.39 L279.86,657.37 L273.82,657.34 L267.79,657.31 L261.75,657.27 L255.71,657.22 L249.68,657.18 L243.64,657.13 L237.61,657.07 L231.57,657.02 L225.54,656.96 L219.5,656.91 L213.46,656.85 L207.43,656.8 L201.39,656.75 L195.36,656.7 L189.32,656.65 L183.29,656.61 L177.25,656.57 L171.21,656.54 L165.18,656.51 L159.14,656.49 L153.11,656.48 L147.07,656.48 L141.04,656.48 L135,656.5 L128.8,656.53 L122.6,656.56 L116.4,656.59 L110.2,656.63 L104,656.67 L97.8,656.7 Z" fill="#16171c"/>
<path d="M99.8,633.2C111.53,633.27 123.27,633.36 135,633.4C191.33,633.58 247.67,632.25 304,631.9C356.67,631.57 409.33,631.5 462,631.3 L462,646.4 L455.6,646.94 L449.2,647.49 L442.8,648.03 L436.4,648.54 L430,649 L423.78,649.39 L417.56,649.74 L411.33,650.05 L405.11,650.32 L398.89,650.55 L392.67,650.76 L386.44,650.93 L380.22,651.08 L374,651.2 L367.64,651.28 L361.27,651.31 L354.91,651.29 L348.55,651.23 L342.18,651.14 L335.82,651.03 L329.45,650.92 L323.09,650.79 L316.73,650.68 L310.36,650.58 L304,650.5 L297.96,650.44 L291.93,650.37 L285.89,650.3 L279.86,650.22 L273.82,650.14 L267.79,650.06 L261.75,649.97 L255.71,649.89 L249.68,649.8 L243.64,649.71 L237.61,649.63 L231.57,649.54 L225.54,649.46 L219.5,649.38 L213.46,649.3 L207.43,649.22 L201.39,649.15 L195.36,649.08 L189.32,649.02 L183.29,648.97 L177.25,648.92 L171.21,648.87 L165.18,648.84 L159.14,648.81 L153.11,648.79 L147.07,648.79 L141.04,648.79 L135,648.8 L127.96,648.83 L120.92,648.87 L113.88,648.91 L106.84,648.96 L99.8,649 Z" fill="url(#inp1)"/>
<path d="M99.8,633.2C111.53,633.27 123.27,633.36 135,633.4C191.33,633.58 247.67,632.25 304,631.9C356.67,631.57 409.33,631.5 462,631.3 L462,646.4 L455.6,646.94 L449.2,647.49 L442.8,648.03 L436.4,648.54 L430,649 L423.78,649.39 L417.56,649.74 L411.33,650.05 L405.11,650.32 L398.89,650.55 L392.67,650.76 L386.44,650.93 L380.22,651.08 L374,651.2 L367.64,651.28 L361.27,651.31 L354.91,651.29 L348.55,651.23 L342.18,651.14 L335.82,651.03 L329.45,650.92 L323.09,650.79 L316.73,650.68 L310.36,650.58 L304,650.5 L297.96,650.44 L291.93,650.37 L285.89,650.3 L279.86,650.22 L273.82,650.14 L267.79,650.06 L261.75,649.97 L255.71,649.89 L249.68,649.8 L243.64,649.71 L237.61,649.63 L231.57,649.54 L225.54,649.46 L219.5,649.38 L213.46,649.3 L207.43,649.22 L201.39,649.15 L195.36,649.08 L189.32,649.02 L183.29,648.97 L177.25,648.92 L171.21,648.87 L165.18,648.84 L159.14,648.81 L153.11,648.79 L147.07,648.79 L141.04,648.79 L135,648.8 L127.96,648.83 L120.92,648.87 L113.88,648.91 L106.84,648.96 L99.8,649 Z" fill="url(#vsp1)"/>
<clipPath id="scp1"><path d="M100.4,626C133.6,626.17 166.8,626.38 200,626.5C234.67,626.62 269.33,626.57 304,626.7C336,626.82 368,627.04 400,627.2C420.87,627.3 441.73,627.4 462.6,627.5 L462.6,654.2 L456.08,654.49 L449.56,654.78 L443.04,655.07 L436.52,655.34 L430,655.6 L423.78,655.82 L417.56,656.03 L411.33,656.23 L405.11,656.41 L398.89,656.57 L392.67,656.73 L386.44,656.86 L380.22,656.99 L374,657.1 L367.64,657.19 L361.27,657.27 L354.91,657.32 L348.55,657.35 L342.18,657.38 L335.82,657.39 L329.45,657.39 L323.09,657.39 L316.73,657.39 L310.36,657.39 L304,657.4 L297.96,657.4 L291.93,657.4 L285.89,657.39 L279.86,657.37 L273.82,657.34 L267.79,657.31 L261.75,657.27 L255.71,657.22 L249.68,657.18 L243.64,657.13 L237.61,657.07 L231.57,657.02 L225.54,656.96 L219.5,656.91 L213.46,656.85 L207.43,656.8 L201.39,656.75 L195.36,656.7 L189.32,656.65 L183.29,656.61 L177.25,656.57 L171.21,656.54 L165.18,656.51 L159.14,656.49 L153.11,656.48 L147.07,656.48 L141.04,656.48 L135,656.5 L128.8,656.53 L122.6,656.56 L116.4,656.59 L110.2,656.63 L104,656.67 L97.8,656.7 Z"/></clipPath>
<rect x="97.8" y="632.7" width="24.8" height="16.8" fill="url(#meshp1)" clip-path="url(#scp1)"/>
</g>
</g>
</g>
<g>
<rect x="480.7" y="766.5" width="37.3" height="109.2" fill="#0000ff"/>
<clipPath id="cp2"><rect x="84.1" y="766.5" width="396.6" height="109.2"/></clipPath>
<g clip-path="url(#cp2)">
<rect x="82.1" y="764.5" width="400.6" height="113.2" fill="url(#bgp2)"/>
<g filter="url(#soft)">
<path d="M89.2,820.3L483.7,820.3L483.7,878.7L89.2,878.7Z" fill="url(#rgp2)"/>
<path d="M89.2,820.3L483.7,820.3L483.7,878.7L89.2,878.7Z" fill="url(#rsp2)"/>
<path d="M89.2,820.3L483.7,820.3L483.7,878.7L89.2,878.7Z" fill="#000" filter="url(#grain)" opacity="0.16"/>
<path d="M89.2,820.3L277,820.3L277,828.06L89.2,828.06Z" fill="#4a463c" opacity="0.30"/>
<path d="M92.15,820.3v7.48M96.04,820.3v7.48M99.92,820.3v7.48M103.81,820.3v7.48M107.7,820.3v7.48M111.59,820.3v7.48M115.48,820.3v7.48M119.37,820.3v7.48M123.26,820.3v7.48M127.12,820.3v7.48M130.97,820.3v7.48M134.82,820.3v7.48M138.68,820.3v7.48M142.53,820.3v7.48M146.38,820.3v7.48M150.22,820.3v7.48M154.07,820.3v7.48M157.93,820.3v7.48M161.78,820.3v7.48M165.6,820.3v7.48M169.4,820.3v7.48M173.2,820.3v7.48M177,820.3v7.48M180.8,820.3v7.48M184.6,820.3v7.48M188.4,820.3v7.48M192.2,820.3v7.48M196,820.3v7.48M199.8,820.3v7.48M203.6,820.3v7.48M207.4,820.3v7.48M211.2,820.3v7.48M215,820.3v7.48M218.8,820.3v7.48M222.6,820.3v7.48M226.4,820.3v7.48M230.2,820.3v7.48M234,820.3v7.48M237.8,820.3v7.48M241.56,820.3v7.48M245.3,820.3v7.48M249.02,820.3v7.48M252.76,820.3v7.48M256.49,820.3v7.48M260.21,820.3v7.48M263.94,820.3v7.48M267.68,820.3v7.48M271.41,820.3v7.48M275.13,820.3v7.48" stroke="#2c2b26" stroke-width="1.0" opacity="0.5" fill="none"/>
<path d="M94.09,820.3v11.08M94.39,876.7v-10.86M97.98,820.3v11.08M98.28,876.7v-10.86M101.87,820.3v11.08M102.17,876.7v-10.86M109.65,820.3v11.08M109.95,876.7v-10.86M113.53,820.3v11.08M113.83,876.7v-10.86M117.42,820.3v11.08M117.72,876.7v-10.86M121.31,820.3v11.08M121.61,876.7v-10.86M129.05,820.3v11.08M129.35,876.7v-10.86M132.9,820.3v11.08M133.2,876.7v-10.86M136.75,820.3v11.08M137.05,876.7v-10.86M140.6,820.3v11.08M140.9,876.7v-10.86M148.3,820.3v11.08M148.6,876.7v-10.86M152.15,820.3v11.08M152.45,876.7v-10.86M156,820.3v11.08M156.3,876.7v-10.86M159.85,820.3v11.08M160.15,876.7v-10.86M167.5,820.3v11.08M167.8,876.7v-10.86M171.3,820.3v11.08M171.6,876.7v-10.86M175.1,820.3v11.08M175.4,876.7v-10.86M178.9,820.3v11.08M179.2,876.7v-10.86M186.5,820.3v11.08M186.8,876.7v-10.86M190.3,820.3v11.08M190.6,876.7v-10.86M194.1,820.3v11.08M194.4,876.7v-10.86M197.9,820.3v11.08M198.2,876.7v-10.86M205.5,820.3v11.08M205.8,876.7v-10.86M209.3,820.3v11.08M209.6,876.7v-10.86M213.1,820.3v11.08M213.4,876.7v-10.86M216.9,820.3v11.08M217.2,876.7v-10.86M224.5,820.3v11.08M224.8,876.7v-10.86M228.3,820.3v11.08M228.6,876.7v-10.86M232.1,820.3v11.08M232.4,876.7v-10.86M235.9,820.3v11.08M236.2,876.7v-10.86M243.43,820.3v11.08M243.73,876.7v-10.86M247.16,820.3v11.08M247.46,876.7v-10.86M250.89,820.3v11.08M251.19,876.7v-10.86M254.62,820.3v11.08M254.92,876.7v-10.86M262.08,820.3v11.08M262.38,876.7v-10.86M265.81,820.3v11.08M266.11,876.7v-10.86M269.54,820.3v11.08M269.84,876.7v-10.86M273.27,820.3v11.08M273.57,876.7v-10.86M105.76,820.3v17.45M106.06,876.7v-16.24M144.45,820.3v17.45M144.75,876.7v-16.24M182.7,820.3v17.45M183,876.7v-16.24M220.7,820.3v17.45M221,876.7v-16.24M258.35,820.3v17.45M258.65,876.7v-16.24" stroke="#2c2b26" stroke-width="1.15" opacity="0.66" fill="none"/>
<path d="M125.2,820.3v23.82M125.6,876.7v-22.88M163.7,820.3v23.82M164.1,876.7v-22.88M201.7,820.3v23.82M202.1,876.7v-22.88M239.7,820.3v23.82M240.1,876.7v-22.88M277,820.3v23.82M277.4,876.7v-22.88" stroke="#2c2b26" stroke-width="1.15" opacity="0.74" fill="none"/>
<path d="M280.75,820.3v11.08M281.05,876.7v-10.86M284.5,820.3v11.08M284.8,876.7v-10.86M288.25,820.3v11.08M288.55,876.7v-10.86M292,820.3v11.08M292.3,876.7v-10.86M299.5,820.3v11.08M299.8,876.7v-10.86M303.25,820.3v11.08M303.55,876.7v-10.86M307,820.3v11.08M307.3,876.7v-10.86M310.75,820.3v11.08M311.05,876.7v-10.86M318.16,820.3v11.08M318.46,876.7v-10.86M321.82,820.3v11.08M322.12,876.7v-10.86M325.48,820.3v11.08M325.78,876.7v-10.86M329.14,820.3v11.08M329.44,876.7v-10.86M336.46,820.3v11.08M336.76,876.7v-10.86M340.12,820.3v11.08M340.42,876.7v-10.86M343.78,820.3v11.08M344.08,876.7v-10.86M347.44,820.3v11.08M347.74,876.7v-10.86M354.73,820.3v11.08M355.03,876.7v-10.86M358.36,820.3v11.08M358.66,876.7v-10.86M361.99,820.3v11.08M362.29,876.7v-10.86M365.62,820.3v11.08M365.92,876.7v-10.86M372.88,820.3v11.08M373.18,876.7v-10.86M376.51,820.3v11.08M376.81,876.7v-10.86M380.14,820.3v11.08M380.44,876.7v-10.86M383.77,820.3v11.08M384.07,876.7v-10.86M391.03,820.3v11.08M391.33,876.7v-10.86M394.66,820.3v11.08M394.96,876.7v-10.86M398.29,820.3v11.08M398.59,876.7v-10.86M401.92,820.3v11.08M402.22,876.7v-10.86M409.18,820.3v11.08M409.48,876.7v-10.86M412.81,820.3v11.08M413.11,876.7v-10.86M416.44,820.3v11.08M416.74,876.7v-10.86M420.07,820.3v11.08M420.37,876.7v-10.86M427.35,820.3v11.08M427.65,876.7v-10.86M431,820.3v11.08M431.3,876.7v-10.86M434.65,820.3v11.08M434.95,876.7v-10.86M438.3,820.3v11.08M438.6,876.7v-10.86M445.6,820.3v11.08M445.9,876.7v-10.86M449.25,820.3v11.08M449.55,876.7v-10.86M452.9,820.3v11.08M453.2,876.7v-10.86M456.55,820.3v11.08M456.85,876.7v-10.86M463.85,820.3v11.08M464.15,876.7v-10.86M467.5,820.3v11.08M467.8,876.7v-10.86M471.15,820.3v11.08M471.45,876.7v-10.86M474.8,820.3v11.08M475.1,876.7v-10.86M295.75,820.3v17.45M296.05,876.7v-16.24M332.8,820.3v17.45M333.1,876.7v-16.24M369.25,820.3v17.45M369.55,876.7v-16.24M405.55,820.3v17.45M405.85,876.7v-16.24M441.95,820.3v17.45M442.25,876.7v-16.24M478.45,820.3v17.45M478.75,876.7v-16.24" stroke="#2c2b26" stroke-width="1.25" opacity="0.86" fill="none"/>
<path d="M314.5,820.3v23.82M314.9,876.7v-22.88M351.1,820.3v23.82M351.5,876.7v-22.88M387.4,820.3v23.82M387.8,876.7v-22.88M423.7,820.3v23.82M424.1,876.7v-22.88M460.2,820.3v23.82M460.6,876.7v-22.88" stroke="#2c2b26" stroke-width="1.25" opacity="0.9" fill="none"/>
<path d="M89.2,820.3L483.7,820.3L483.7,878.7L89.2,878.7Z" fill="url(#rsp2)" opacity="0.55"/>
<g font-family="'Liberation Serif','DejaVu Serif',serif" font-weight="bold" font-size="16.23" fill="#1a1917">
<text transform="translate(123.9,856.1) scale(1.24,1)" text-anchor="end">1</text>
<text transform="translate(162.4,856.1) scale(1.24,1)" text-anchor="end">2</text>
<text transform="translate(200.4,856.1) scale(1.24,1)" text-anchor="end">3</text>
<text transform="translate(238.4,856.1) scale(1.24,1)" text-anchor="end">4</text>
<text transform="translate(275.7,856.1) scale(1.24,1)" text-anchor="end">5</text>
<text transform="translate(313.2,856.1) scale(1.24,1)" text-anchor="end">6</text>
<text transform="translate(349.8,856.1) scale(1.24,1)" text-anchor="end">7</text>
<text transform="translate(386.1,856.1) scale(1.24,1)" text-anchor="end">8</text>
<text transform="translate(422.4,856.1) scale(1.24,1)" text-anchor="end">9</text>
<text transform="translate(457.6,856.1) scale(1.24,1)" text-anchor="end">1</text>
<text transform="translate(461.8,856.1) scale(1.24,1)">0</text>
</g>
<g font-family="'Liberation Sans',sans-serif" font-weight="bold" font-size="5.2" fill="#3a3934" opacity="0.8">
<text x="92.2" y="838.58" textLength="24" lengthAdjust="spacingAndGlyphs">0.5mm</text>
<text x="92.2" y="861.85" textLength="13" lengthAdjust="spacingAndGlyphs">mm</text>
<text x="462.7" y="839.14" textLength="12" lengthAdjust="spacingAndGlyphs">mm</text>
</g>
<path d="M94,777.6C129.33,778.07 164.67,778.62 200,779C236.67,779.39 273.33,779.68 310,779.9C340,780.08 370,780.25 400,780.3C420.47,780.34 440.93,780.3 461.4,780.3 L461.4,806.5 L455.12,807.23 L448.84,807.99 L442.56,808.74 L436.28,809.42 L430,810 L423.17,810.49 L416.33,810.85 L409.5,811.13 L402.67,811.34 L395.83,811.52 L389,811.7 L382.64,811.85 L376.29,811.94 L369.93,812 L363.57,812.01 L357.21,811.99 L350.86,811.95 L344.5,811.89 L338.14,811.81 L331.79,811.71 L325.43,811.62 L319.07,811.52 L312.71,811.44 L306.36,811.36 L300,811.3 L293.84,811.25 L287.68,811.2 L281.53,811.15 L275.37,811.1 L269.21,811.04 L263.05,810.98 L256.89,810.92 L250.74,810.85 L244.58,810.79 L238.42,810.71 L232.26,810.64 L226.11,810.56 L219.95,810.48 L213.79,810.39 L207.63,810.3 L201.47,810.21 L195.32,810.11 L189.16,810.01 L183,809.9 L176.38,809.78 L169.75,809.67 L163.12,809.55 L156.5,809.43 L149.88,809.3 L143.25,809.15 L136.62,808.99 L130,808.8 L124,808.61 L118,808.39 L112,808.16 L106,807.92 L100,807.68 L94,807.43 L88,807.2 Z" fill="#000" opacity="0.10" transform="translate(0.5,2.2)" filter="url(#shadow)"/>
<path d="M94,777.6C129.33,778.07 164.67,778.62 200,779C236.67,779.39 273.33,779.68 310,779.9C340,780.08 370,780.25 400,780.3C420.47,780.34 440.93,780.3 461.4,780.3 L461.4,806.5 L455.12,807.23 L448.84,807.99 L442.56,808.74 L436.28,809.42 L430,810 L423.17,810.49 L416.33,810.85 L409.5,811.13 L402.67,811.34 L395.83,811.52 L389,811.7 L382.64,811.85 L376.29,811.94 L369.93,812 L363.57,812.01 L357.21,811.99 L350.86,811.95 L344.5,811.89 L338.14,811.81 L331.79,811.71 L325.43,811.62 L319.07,811.52 L312.71,811.44 L306.36,811.36 L300,811.3 L293.84,811.25 L287.68,811.2 L281.53,811.15 L275.37,811.1 L269.21,811.04 L263.05,810.98 L256.89,810.92 L250.74,810.85 L244.58,810.79 L238.42,810.71 L232.26,810.64 L226.11,810.56 L219.95,810.48 L213.79,810.39 L207.63,810.3 L201.47,810.21 L195.32,810.11 L189.16,810.01 L183,809.9 L176.38,809.78 L169.75,809.67 L163.12,809.55 L156.5,809.43 L149.88,809.3 L143.25,809.15 L136.62,808.99 L130,808.8 L124,808.61 L118,808.39 L112,808.16 L106,807.92 L100,807.68 L94,807.43 L88,807.2 Z" fill="#111214"/>
<path d="M92.2,784.3C128.13,784.47 164.07,784.68 200,784.8C236.67,784.92 273.33,784.89 310,785C360.33,785.15 410.67,785.47 461,785.7 L461,803.2 L455,803.36 L449,803.52 L443,803.69 L437,803.86 L431,804.04 L425,804.21 L419,804.37 L413,804.52 L407,804.67 L401,804.8 L395,804.91 L389,805 L382.64,805.07 L376.29,805.13 L369.93,805.16 L363.57,805.18 L357.21,805.19 L350.86,805.18 L344.5,805.16 L338.14,805.13 L331.79,805.1 L325.43,805.06 L319.07,805.02 L312.71,804.98 L306.36,804.94 L300,804.9 L293.84,804.86 L287.68,804.82 L281.53,804.77 L275.37,804.71 L269.21,804.64 L263.05,804.58 L256.89,804.51 L250.74,804.43 L244.58,804.35 L238.42,804.27 L232.26,804.19 L226.11,804.11 L219.95,804.03 L213.79,803.95 L207.63,803.88 L201.47,803.8 L195.32,803.73 L189.16,803.66 L183,803.6 L176.95,803.54 L170.89,803.48 L164.84,803.43 L158.79,803.37 L152.73,803.32 L146.68,803.27 L140.63,803.21 L134.57,803.16 L128.52,803.11 L122.47,803.06 L116.41,803.01 L110.36,802.96 L104.31,802.91 L98.25,802.85 L92.2,802.8 Z" fill="url(#inp2)"/>
<path d="M92.2,784.3C128.13,784.47 164.07,784.68 200,784.8C236.67,784.92 273.33,784.89 310,785C360.33,785.15 410.67,785.47 461,785.7 L461,803.2 L455,803.36 L449,803.52 L443,803.69 L437,803.86 L431,804.04 L425,804.21 L419,804.37 L413,804.52 L407,804.67 L401,804.8 L395,804.91 L389,805 L382.64,805.07 L376.29,805.13 L369.93,805.16 L363.57,805.18 L357.21,805.19 L350.86,805.18 L344.5,805.16 L338.14,805.13 L331.79,805.1 L325.43,805.06 L319.07,805.02 L312.71,804.98 L306.36,804.94 L300,804.9 L293.84,804.86 L287.68,804.82 L281.53,804.77 L275.37,804.71 L269.21,804.64 L263.05,804.58 L256.89,804.51 L250.74,804.43 L244.58,804.35 L238.42,804.27 L232.26,804.19 L226.11,804.11 L219.95,804.03 L213.79,803.95 L207.63,803.88 L201.47,803.8 L195.32,803.73 L189.16,803.66 L183,803.6 L176.95,803.54 L170.89,803.48 L164.84,803.43 L158.79,803.37 L152.73,803.32 L146.68,803.27 L140.63,803.21 L134.57,803.16 L128.52,803.11 L122.47,803.06 L116.41,803.01 L110.36,802.96 L104.31,802.91 L98.25,802.85 L92.2,802.8 Z" fill="url(#vsp2)"/>
<ellipse cx="265" cy="789" rx="65" ry="2.2" fill="#a0a49c" opacity="0.35"/>
<ellipse cx="390" cy="792" rx="60" ry="3" fill="#90948a" opacity="0.3"/>
<clipPath id="scp2"><path d="M94,777.6C129.33,778.07 164.67,778.62 200,779C236.67,779.39 273.33,779.68 310,779.9C340,780.08 370,780.25 400,780.3C420.47,780.34 440.93,780.3 461.4,780.3 L461.4,806.5 L455.12,807.23 L448.84,807.99 L442.56,808.74 L436.28,809.42 L430,810 L423.17,810.49 L416.33,810.85 L409.5,811.13 L402.67,811.34 L395.83,811.52 L389,811.7 L382.64,811.85 L376.29,811.94 L369.93,812 L363.57,812.01 L357.21,811.99 L350.86,811.95 L344.5,811.89 L338.14,811.81 L331.79,811.71 L325.43,811.62 L319.07,811.52 L312.71,811.44 L306.36,811.36 L300,811.3 L293.84,811.25 L287.68,811.2 L281.53,811.15 L275.37,811.1 L269.21,811.04 L263.05,810.98 L256.89,810.92 L250.74,810.85 L244.58,810.79 L238.42,810.71 L232.26,810.64 L226.11,810.56 L219.95,810.48 L213.79,810.39 L207.63,810.3 L201.47,810.21 L195.32,810.11 L189.16,810.01 L183,809.9 L176.38,809.78 L169.75,809.67 L163.12,809.55 L156.5,809.43 L149.88,809.3 L143.25,809.15 L136.62,808.99 L130,808.8 L124,808.61 L118,808.39 L112,808.16 L106,807.92 L100,807.68 L94,807.43 L88,807.2 Z"/></clipPath>
<rect x="88" y="784" width="27.2" height="17.2" fill="url(#meshp2)" clip-path="url(#scp2)"/>
</g>
</g>
</g>
<g>
<rect x="1059.7" y="487.8" width="38.8" height="109.2" fill="#ff0000"/>
<clipPath id="cp3"><rect x="661.2" y="488.1" width="398.5" height="108.9"/></clipPath>
<g clip-path="url(#cp3)">
<rect x="659.2" y="486.1" width="402.5" height="112.9" fill="url(#bgp3)"/>
<g filter="url(#soft)">
<path d="M666.8,541.5L1062.7,543.4L1062.7,600L666.8,600Z" fill="url(#rgp3)"/>
<path d="M666.8,541.5L1062.7,543.4L1062.7,600L666.8,600Z" fill="url(#rsp3)"/>
<path d="M666.8,541.5L1062.7,543.4L1062.7,600L666.8,600Z" fill="#000" filter="url(#grain)" opacity="0.16"/>
<path d="M666.8,541.5L850.5,542.39L850.5,550.03L666.8,549.14Z" fill="#4a463c" opacity="0.30"/>
<path d="M670.91,541.52v7.36M674.69,541.54v7.36M678.48,541.56v7.36M682.27,541.57v7.36M686.06,541.59v7.36M689.84,541.61v7.36M693.63,541.63v7.36M697.42,541.65v7.36M701.21,541.67v7.36M704.98,541.68v7.36M708.73,541.7v7.36M712.48,541.72v7.36M716.23,541.74v7.36M719.98,541.76v7.36M723.73,541.78v7.36M727.48,541.79v7.36M731.23,541.81v7.36M734.98,541.83v7.36M738.73,541.85v7.36M742.43,541.87v7.36M746.09,541.88v7.36M749.75,541.9v7.36M753.41,541.92v7.36M757.07,541.94v7.36M760.73,541.95v7.36M764.39,541.97v7.36M768.05,541.99v7.36M771.71,542.01v7.36M775.37,542.03v7.36M779.03,542.04v7.36M782.69,542.06v7.36M786.35,542.08v7.36M790.01,542.1v7.36M793.67,542.11v7.36M797.33,542.13v7.36M800.99,542.15v7.36M804.65,542.17v7.36M808.31,542.18v7.36M811.97,542.2v7.36M815.63,542.22v7.36M819.3,542.24v7.36M822.97,542.26v7.36M826.64,542.27v7.36M830.31,542.29v7.36M833.99,542.31v7.36M837.65,542.33v7.36M841.33,542.34v7.36M845,542.36v7.36M848.66,542.38v7.36" stroke="#2c2b26" stroke-width="1.0" opacity="0.5" fill="none"/>
<path d="M669.01,541.51v10.91M669.31,598v-10.71M672.8,541.53v10.91M673.1,598v-10.71M676.59,541.55v10.91M676.89,598v-10.71M680.38,541.57v10.91M680.67,598v-10.71M687.95,541.6v10.91M688.25,598v-10.71M691.74,541.62v10.91M692.04,598v-10.71M695.52,541.64v10.91M695.82,598v-10.71M699.31,541.66v10.91M699.61,598v-10.71M706.85,541.69v10.91M707.15,598v-10.71M710.6,541.71v10.91M710.9,598v-10.71M714.35,541.73v10.91M714.65,598v-10.71M718.1,541.75v10.91M718.4,598v-10.71M725.6,541.78v10.91M725.9,598v-10.71M729.35,541.8v10.91M729.65,598v-10.71M733.1,541.82v10.91M733.4,598v-10.71M736.85,541.84v10.91M737.15,598v-10.71M744.26,541.87v10.91M744.56,598v-10.71M747.92,541.89v10.91M748.22,598v-10.71M751.58,541.91v10.91M751.88,598v-10.71M755.24,541.93v10.91M755.54,598v-10.71M762.56,541.96v10.91M762.86,598v-10.71M766.22,541.98v10.91M766.52,598v-10.71M769.88,542v10.91M770.18,598v-10.71M773.54,542.02v10.91M773.84,598v-10.71M780.86,542.05v10.91M781.16,598v-10.71M784.52,542.07v10.91M784.82,598v-10.71M788.18,542.09v10.91M788.48,598v-10.71M791.84,542.1v10.91M792.14,598v-10.71M799.16,542.14v10.91M799.46,598v-10.71M802.82,542.16v10.91M803.12,598v-10.71M806.48,542.18v10.91M806.78,598v-10.71M810.14,542.19v10.91M810.44,598v-10.71M817.47,542.23v10.91M817.77,598v-10.71M821.14,542.25v10.91M821.44,598v-10.71M824.81,542.26v10.91M825.11,598v-10.71M828.48,542.28v10.91M828.78,598v-10.71M835.82,542.32v10.91M836.12,598v-10.71M839.49,542.34v10.91M839.79,598v-10.71M843.16,542.35v10.91M843.46,598v-10.71M846.83,542.37v10.91M847.13,598v-10.71M684.16,541.58v17.18M684.46,598v-16M721.85,541.77v17.18M722.15,598v-16M758.9,541.95v17.18M759.2,598v-16M795.5,542.12v17.18M795.8,598v-16M832.15,542.3v17.18M832.45,598v-16" stroke="#2c2b26" stroke-width="1.15" opacity="0.66" fill="none"/>
<path d="M703.1,541.68v23.46M703.5,598v-22.55M740.6,541.86v23.46M741,598v-22.55M777.2,542.03v23.46M777.6,598v-22.55M813.8,542.21v23.46M814.2,598v-22.55M850.5,542.39v23.46M850.9,598v-22.55" stroke="#2c2b26" stroke-width="1.15" opacity="0.74" fill="none"/>
<path d="M854.12,542.41v10.91M854.42,598v-10.71M857.74,542.42v10.91M858.04,598v-10.71M861.36,542.44v10.91M861.66,598v-10.71M864.98,542.46v10.91M865.28,598v-10.71M872.22,542.49v10.91M872.52,598v-10.71M875.84,542.51v10.91M876.14,598v-10.71M879.46,542.53v10.91M879.76,598v-10.71M883.08,542.55v10.91M883.38,598v-10.71M890.35,542.58v10.91M890.65,598v-10.71M894,542.6v10.91M894.3,598v-10.71M897.65,542.62v10.91M897.95,598v-10.71M901.3,542.63v10.91M901.6,598v-10.71M908.6,542.67v10.91M908.9,598v-10.71M912.25,542.69v10.91M912.55,598v-10.71M915.9,542.7v10.91M916.2,598v-10.71M919.55,542.72v10.91M919.85,598v-10.71M926.88,542.76v10.91M927.18,598v-10.71M930.56,542.78v10.91M930.86,598v-10.71M934.24,542.79v10.91M934.54,598v-10.71M937.92,542.81v10.91M938.22,598v-10.71M945.28,542.85v10.91M945.58,598v-10.71M948.96,542.86v10.91M949.26,598v-10.71M952.64,542.88v10.91M952.94,598v-10.71M956.32,542.9v10.91M956.62,598v-10.71M963.58,542.94v10.91M963.88,598v-10.71M967.16,542.95v10.91M967.46,598v-10.71M970.74,542.97v10.91M971.04,598v-10.71M974.32,542.99v10.91M974.62,598v-10.71M981.48,543.02v10.91M981.78,598v-10.71M985.06,543.04v10.91M985.36,598v-10.71M988.64,543.06v10.91M988.94,598v-10.71M992.22,543.07v10.91M992.52,598v-10.71M999.4,543.11v10.91M999.7,598v-10.71M1003,543.13v10.91M1003.3,598v-10.71M1006.6,543.14v10.91M1006.9,598v-10.71M1010.2,543.16v10.91M1010.5,598v-10.71M1017.4,543.2v10.91M1017.7,598v-10.71M1021,543.21v10.91M1021.3,598v-10.71M1024.6,543.23v10.91M1024.9,598v-10.71M1028.2,543.25v10.91M1028.5,598v-10.71M1035.4,543.28v10.91M1035.7,598v-10.71M1039,543.3v10.91M1039.3,598v-10.71M1042.6,543.32v10.91M1042.9,598v-10.71M1046.2,543.33v10.91M1046.5,598v-10.71M1053.4,543.37v10.91M1053.7,598v-10.71M1057,543.39v10.91M1057.3,598v-10.71M1060.6,543.4v10.91M1060.9,598v-10.71M868.6,542.48v17.18M868.9,598v-16M904.95,542.65v17.18M905.25,598v-16M941.6,542.83v17.18M941.9,598v-16M977.9,543v17.18M978.2,598v-16M1013.8,543.18v17.18M1014.1,598v-16M1049.8,543.35v17.18M1050.1,598v-16" stroke="#2c2b26" stroke-width="1.25" opacity="0.86" fill="none"/>
<path d="M886.7,542.56v23.46M887.1,598v-22.55M923.2,542.74v23.46M923.6,598v-22.55M960,542.92v23.46M960.4,598v-22.55M995.8,543.09v23.46M996.2,598v-22.55M1031.8,543.27v23.46M1032.2,598v-22.55" stroke="#2c2b26" stroke-width="1.25" opacity="0.9" fill="none"/>
<path d="M666.8,541.5L1062.7,543.4L1062.7,600L666.8,600Z" fill="url(#rsp3)" opacity="0.55"/>
<g font-family="'Liberation Serif','DejaVu Serif',serif" font-weight="bold" font-size="15.98" fill="#1a1917">
<text transform="translate(701.8,577.4) scale(1.24,1)" text-anchor="end">1</text>
<text transform="translate(739.3,577.4) scale(1.24,1)" text-anchor="end">2</text>
<text transform="translate(775.9,577.4) scale(1.24,1)" text-anchor="end">3</text>
<text transform="translate(812.5,577.4) scale(1.24,1)" text-anchor="end">4</text>
<text transform="translate(849.2,577.4) scale(1.24,1)" text-anchor="end">5</text>
<text transform="translate(885.4,577.4) scale(1.24,1)" text-anchor="end">6</text>
<text transform="translate(921.9,577.4) scale(1.24,1)" text-anchor="end">7</text>
<text transform="translate(958.7,577.4) scale(1.24,1)" text-anchor="end">8</text>
<text transform="translate(994.5,577.4) scale(1.24,1)" text-anchor="end">9</text>
<text transform="translate(1029.2,577.4) scale(1.24,1)" text-anchor="end">1</text>
<text transform="translate(1033.4,577.4) scale(1.24,1)">0</text>
</g>
<g font-family="'Liberation Sans',sans-serif" font-weight="bold" font-size="5.2" fill="#3a3934" opacity="0.8">
<text x="669.8" y="560.45" textLength="24" lengthAdjust="spacingAndGlyphs">0.5mm</text>
<text x="669.8" y="583.36" textLength="13" lengthAdjust="spacingAndGlyphs">mm</text>
<text x="1034.3" y="561" textLength="12" lengthAdjust="spacingAndGlyphs">mm</text>
</g>
<path d="M672,497.5Q862.8,499.1 1053.6,499.5L1053.6,532.1Q862.8,531.45 672,529.6Z" fill="#000" opacity="0.10" transform="translate(0.5,2.2)" filter="url(#shadow)"/>
<path d="M672,497.5Q862.8,499.1 1053.6,499.5L1053.6,532.1Q862.8,531.45 672,529.6Z" fill="#322e30"/>
<path d="M672.6,503Q862.8,504.7 1053.1,505.2L1053.1,525.2Q862.8,524.7 672.6,523Z" fill="url(#inp3)"/>
<path d="M672.6,503Q862.8,504.7 1053.1,505.2L1053.1,525.2Q862.8,524.7 672.6,523Z" fill="url(#vsp3)"/>
<clipPath id="scp3"><path d="M672,497.5Q862.8,499.1 1053.6,499.5L1053.6,532.1Q862.8,531.45 672,529.6Z"/></clipPath>
<rect x="672" y="502.7" width="22.2" height="20.6" fill="url(#meshp3)" clip-path="url(#scp3)"/>
</g>
</g>
</g>
<g>
<rect x="1057.7" y="618.6" width="37.3" height="108.8" fill="#000000"/>
<clipPath id="cp4"><rect x="660.6" y="619.2" width="397.1" height="107.8"/></clipPath>
<g clip-path="url(#cp4)">
<rect x="658.6" y="617.2" width="401.1" height="111.8" fill="url(#bgp4)"/>
<g filter="url(#soft)">
<path d="M672,674.4L1060.7,675.9L1060.7,730L672,730Z" fill="url(#rgp4)"/>
<path d="M672,674.4L1060.7,675.9L1060.7,730L672,730Z" fill="url(#rsp4)"/>
<path d="M672,674.4L1060.7,675.9L1060.7,730L672,730Z" fill="#000" filter="url(#grain)" opacity="0.16"/>
<path d="M672,674.4L853.5,675.11L853.5,682.36L672,681.66Z" fill="#4a463c" opacity="0.30"/>
<path d="M676.24,674.42v7M679.97,674.43v7M683.71,674.45v7M687.45,674.46v7M691.18,674.47v7M694.92,674.49v7M698.66,674.5v7M702.39,674.52v7M706.13,674.53v7M709.85,674.55v7M713.55,674.56v7M717.25,674.58v7M720.95,674.59v7M724.65,674.6v7M728.35,674.62v7M732.05,674.63v7M735.75,674.65v7M739.45,674.66v7M743.15,674.68v7M746.83,674.69v7M750.49,674.71v7M754.15,674.72v7M757.81,674.73v7M761.47,674.75v7M765.13,674.76v7M768.79,674.78v7M772.45,674.79v7M776.11,674.8v7M779.77,674.82v7M783.4,674.83v7M787,674.85v7M790.6,674.86v7M794.2,674.88v7M797.8,674.89v7M801.4,674.9v7M805,674.92v7M808.6,674.93v7M812.2,674.95v7M815.8,674.96v7M819.39,674.97v7M822.99,674.99v7M826.58,675v7M830.17,675.02v7M833.75,675.03v7M837.35,675.04v7M840.94,675.06v7M844.52,675.07v7M848.12,675.08v7M851.71,675.1v7" stroke="#2c2b26" stroke-width="1.0" opacity="0.5" fill="none"/>
<path d="M674.37,674.41v10.37M674.67,728v-10.23M678.1,674.42v10.37M678.4,728v-10.23M681.84,674.44v10.37M682.14,728v-10.23M685.58,674.45v10.37M685.88,728v-10.23M693.05,674.48v10.37M693.35,728v-10.23M696.79,674.5v10.37M697.09,728v-10.23M700.53,674.51v10.37M700.83,728v-10.23M704.26,674.53v10.37M704.56,728v-10.23M711.7,674.55v10.37M712,728v-10.23M715.4,674.57v10.37M715.7,728v-10.23M719.1,674.58v10.37M719.4,728v-10.23M722.8,674.6v10.37M723.1,728v-10.23M730.2,674.63v10.37M730.5,728v-10.23M733.9,674.64v10.37M734.2,728v-10.23M737.6,674.66v10.37M737.9,728v-10.23M741.3,674.67v10.37M741.6,728v-10.23M748.66,674.7v10.37M748.96,728v-10.23M752.32,674.71v10.37M752.62,728v-10.23M755.98,674.73v10.37M756.28,728v-10.23M759.64,674.74v10.37M759.94,728v-10.23M766.96,674.77v10.37M767.26,728v-10.23M770.62,674.78v10.37M770.92,728v-10.23M774.28,674.8v10.37M774.58,728v-10.23M777.94,674.81v10.37M778.24,728v-10.23M785.2,674.84v10.37M785.5,728v-10.23M788.8,674.85v10.37M789.1,728v-10.23M792.4,674.87v10.37M792.7,728v-10.23M796,674.88v10.37M796.3,728v-10.23M803.2,674.91v10.37M803.5,728v-10.23M806.8,674.92v10.37M807.1,728v-10.23M810.4,674.94v10.37M810.7,728v-10.23M814,674.95v10.37M814.3,728v-10.23M821.19,674.98v10.37M821.49,728v-10.23M824.78,674.99v10.37M825.08,728v-10.23M828.37,675.01v10.37M828.67,728v-10.23M831.96,675.02v10.37M832.26,728v-10.23M839.14,675.05v10.37M839.44,728v-10.23M842.73,675.06v10.37M843.03,728v-10.23M846.32,675.08v10.37M846.62,728v-10.23M849.91,675.09v10.37M850.21,728v-10.23M689.32,674.47v16.33M689.62,728v-15.26M726.5,674.61v16.33M726.8,728v-15.26M763.3,674.76v16.33M763.6,728v-15.26M799.6,674.9v16.33M799.9,728v-15.26M835.55,675.04v16.33M835.85,728v-15.26" stroke="#2c2b26" stroke-width="1.15" opacity="0.66" fill="none"/>
<path d="M708,674.54v22.3M708.4,728v-21.48M745,674.68v22.3M745.4,728v-21.48M781.6,674.83v22.3M782,728v-21.48M817.6,674.97v22.3M818,728v-21.48M853.5,675.11v22.3M853.9,728v-21.48" stroke="#2c2b26" stroke-width="1.15" opacity="0.74" fill="none"/>
<path d="M857.11,675.12v10.37M857.41,728v-10.23M860.72,675.13v10.37M861.02,728v-10.23M864.33,675.15v10.37M864.63,728v-10.23M867.94,675.16v10.37M868.24,728v-10.23M875.16,675.19v10.37M875.46,728v-10.23M878.77,675.2v10.37M879.07,728v-10.23M882.38,675.22v10.37M882.68,728v-10.23M885.99,675.23v10.37M886.29,728v-10.23M893.05,675.26v10.37M893.35,728v-10.23M896.5,675.27v10.37M896.8,728v-10.23M899.95,675.29v10.37M900.25,728v-10.23M903.4,675.3v10.37M903.7,728v-10.23M910.3,675.33v10.37M910.6,728v-10.23M913.75,675.34v10.37M914.05,728v-10.23M917.2,675.35v10.37M917.5,728v-10.23M920.65,675.37v10.37M920.95,728v-10.23M927.76,675.39v10.37M928.06,728v-10.23M931.42,675.41v10.37M931.72,728v-10.23M935.08,675.42v10.37M935.38,728v-10.23M938.74,675.44v10.37M939.04,728v-10.23M946.06,675.47v10.37M946.36,728v-10.23M949.72,675.48v10.37M950.02,728v-10.23M953.38,675.49v10.37M953.68,728v-10.23M957.04,675.51v10.37M957.34,728v-10.23M964.26,675.54v10.37M964.56,728v-10.23M967.82,675.55v10.37M968.12,728v-10.23M971.38,675.56v10.37M971.68,728v-10.23M974.94,675.58v10.37M975.24,728v-10.23M982.06,675.61v10.37M982.36,728v-10.23M985.62,675.62v10.37M985.92,728v-10.23M989.18,675.63v10.37M989.48,728v-10.23M992.74,675.65v10.37M993.04,728v-10.23M999.85,675.68v10.37M1000.15,728v-10.23M1003.4,675.69v10.37M1003.7,728v-10.23M1006.95,675.7v10.37M1007.25,728v-10.23M1010.5,675.72v10.37M1010.8,728v-10.23M1017.6,675.74v10.37M1017.9,728v-10.23M1021.15,675.76v10.37M1021.45,728v-10.23M1024.7,675.77v10.37M1025,728v-10.23M1028.25,675.79v10.37M1028.55,728v-10.23M1035.35,675.81v10.37M1035.65,728v-10.23M1038.9,675.83v10.37M1039.2,728v-10.23M1042.45,675.84v10.37M1042.75,728v-10.23M1046,675.85v10.37M1046.3,728v-10.23M1053.1,675.88v10.37M1053.4,728v-10.23M1056.65,675.9v10.37M1056.95,728v-10.23M871.55,675.18v16.33M871.85,728v-15.26M906.85,675.31v16.33M907.15,728v-15.26M942.4,675.45v16.33M942.7,728v-15.26M978.5,675.59v16.33M978.8,728v-15.26M1014.05,675.73v16.33M1014.35,728v-15.26M1049.55,675.87v16.33M1049.85,728v-15.26" stroke="#2c2b26" stroke-width="1.25" opacity="0.86" fill="none"/>
<path d="M889.6,675.25v22.3M890,728v-21.48M924.1,675.38v22.3M924.5,728v-21.48M960.7,675.52v22.3M961.1,728v-21.48M996.3,675.66v22.3M996.7,728v-21.48M1031.8,675.8v22.3M1032.2,728v-21.48" stroke="#2c2b26" stroke-width="1.25" opacity="0.9" fill="none"/>
<path d="M672,674.4L1060.7,675.9L1060.7,730L672,730Z" fill="url(#rsp4)" opacity="0.55"/>
<g font-family="'Liberation Serif','DejaVu Serif',serif" font-weight="bold" font-size="15.19" fill="#1a1917">
<text transform="translate(706.7,707.8) scale(1.24,1)" text-anchor="end">1</text>
<text transform="translate(743.7,707.8) scale(1.24,1)" text-anchor="end">2</text>
<text transform="translate(780.3,707.8) scale(1.24,1)" text-anchor="end">3</text>
<text transform="translate(816.3,707.8) scale(1.24,1)" text-anchor="end">4</text>
<text transform="translate(852.2,707.8) scale(1.24,1)" text-anchor="end">5</text>
<text transform="translate(888.3,707.8) scale(1.24,1)" text-anchor="end">6</text>
<text transform="translate(922.8,707.8) scale(1.24,1)" text-anchor="end">7</text>
<text transform="translate(959.4,707.8) scale(1.24,1)" text-anchor="end">8</text>
<text transform="translate(995,707.8) scale(1.24,1)" text-anchor="end">9</text>
<text transform="translate(1029.2,707.8) scale(1.24,1)" text-anchor="end">1</text>
<text transform="translate(1033.4,707.8) scale(1.24,1)">0</text>
</g>
<g font-family="'Liberation Sans',sans-serif" font-weight="bold" font-size="5.2" fill="#3a3934" opacity="0.8">
<text x="675" y="692.26" textLength="24" lengthAdjust="spacingAndGlyphs">0.5mm</text>
<text x="675" y="714.04" textLength="13" lengthAdjust="spacingAndGlyphs">mm</text>
<text x="1034.3" y="692.78" textLength="12" lengthAdjust="spacingAndGlyphs">mm</text>
</g>
<path d="M671.8,633Q857.15,633.95 1042.5,633.7L1042.5,663.6Q857.15,663.1 674.8,662.6Z" fill="#000" opacity="0.10" transform="translate(0.5,2.2)" filter="url(#shadow)"/>
<path d="M671.8,633Q857.15,633.95 1042.5,633.7L1042.5,663.6Q857.15,663.1 674.8,662.6Z" fill="#323034"/>
<path d="M672.4,640.2Q857.15,640.6 1039.5,639.8L1039.5,657.9Q857.15,657.3 672.4,656.7Z" fill="url(#inp4)"/>
<path d="M672.4,640.2Q857.15,640.6 1039.5,639.8L1039.5,657.9Q857.15,657.3 672.4,656.7Z" fill="url(#vsp4)"/>
<clipPath id="scp4"><path d="M671.8,633Q857.15,633.95 1042.5,633.7L1042.5,663.6Q857.15,663.1 674.8,662.6Z"/></clipPath>
<rect x="671.8" y="639.9" width="20.6" height="17.1" fill="url(#meshp4)" clip-path="url(#scp4)"/>
</g>
</g>
</g>
<g>
<rect x="1058.5" y="765.8" width="34.8" height="108.4" fill="#0000ff"/>
<clipPath id="cp5"><rect x="660.6" y="765.7" width="397.9" height="108.5"/></clipPath>
<g clip-path="url(#cp5)">
<rect x="658.6" y="763.7" width="401.9" height="112.5" fill="url(#bgp5)"/>
<g filter="url(#soft)">
<path d="M667.6,821.3L1061.5,821.3L1061.5,877.2L667.6,877.2Z" fill="url(#rgp5)"/>
<path d="M667.6,821.3L1061.5,821.3L1061.5,877.2L667.6,877.2Z" fill="url(#rsp5)"/>
<path d="M667.6,821.3L1061.5,821.3L1061.5,877.2L667.6,877.2Z" fill="#000" filter="url(#grain)" opacity="0.16"/>
<path d="M667.6,821.3L855.7,821.3L855.7,828.71L667.6,828.71Z" fill="#4a463c" opacity="0.30"/>
<path d="M669.83,821.3v7.14M673.65,821.3v7.14M677.47,821.3v7.14M681.28,821.3v7.14M685.1,821.3v7.14M688.92,821.3v7.14M692.74,821.3v7.14M696.56,821.3v7.14M700.37,821.3v7.14M704.19,821.3v7.14M707.99,821.3v7.14M711.77,821.3v7.14M715.55,821.3v7.14M719.33,821.3v7.14M723.11,821.3v7.14M726.89,821.3v7.14M730.67,821.3v7.14M734.45,821.3v7.14M738.23,821.3v7.14M742.01,821.3v7.14M745.78,821.3v7.14M749.55,821.3v7.14M753.33,821.3v7.14M757.1,821.3v7.14M760.87,821.3v7.14M764.63,821.3v7.14M768.4,821.3v7.14M772.17,821.3v7.14M775.95,821.3v7.14M779.72,821.3v7.14M783.46,821.3v7.14M787.17,821.3v7.14M790.88,821.3v7.14M794.59,821.3v7.14M798.3,821.3v7.14M802,821.3v7.14M805.72,821.3v7.14M809.43,821.3v7.14M813.13,821.3v7.14M816.85,821.3v7.14M820.55,821.3v7.14M824.25,821.3v7.14M827.95,821.3v7.14M831.65,821.3v7.14M835.35,821.3v7.14M839.05,821.3v7.14M842.75,821.3v7.14M846.45,821.3v7.14M850.15,821.3v7.14M853.85,821.3v7.14" stroke="#2c2b26" stroke-width="1.0" opacity="0.5" fill="none"/>
<path d="M671.74,821.3v10.58M672.04,875.2v-10.42M675.56,821.3v10.58M675.86,875.2v-10.42M679.38,821.3v10.58M679.68,875.2v-10.42M683.19,821.3v10.58M683.49,875.2v-10.42M690.83,821.3v10.58M691.13,875.2v-10.42M694.65,821.3v10.58M694.95,875.2v-10.42M698.46,821.3v10.58M698.76,875.2v-10.42M702.28,821.3v10.58M702.58,875.2v-10.42M709.88,821.3v10.58M710.18,875.2v-10.42M713.66,821.3v10.58M713.96,875.2v-10.42M717.44,821.3v10.58M717.74,875.2v-10.42M721.22,821.3v10.58M721.52,875.2v-10.42M728.78,821.3v10.58M729.08,875.2v-10.42M732.56,821.3v10.58M732.86,875.2v-10.42M736.34,821.3v10.58M736.64,875.2v-10.42M740.12,821.3v10.58M740.42,875.2v-10.42M747.67,821.3v10.58M747.97,875.2v-10.42M751.44,821.3v10.58M751.74,875.2v-10.42M755.21,821.3v10.58M755.51,875.2v-10.42M758.98,821.3v10.58M759.28,875.2v-10.42M766.52,821.3v10.58M766.82,875.2v-10.42M770.29,821.3v10.58M770.59,875.2v-10.42M774.06,821.3v10.58M774.36,875.2v-10.42M777.83,821.3v10.58M778.13,875.2v-10.42M785.31,821.3v10.58M785.61,875.2v-10.42M789.02,821.3v10.58M789.32,875.2v-10.42M792.73,821.3v10.58M793.03,875.2v-10.42M796.44,821.3v10.58M796.74,875.2v-10.42M803.86,821.3v10.58M804.16,875.2v-10.42M807.57,821.3v10.58M807.87,875.2v-10.42M811.28,821.3v10.58M811.58,875.2v-10.42M814.99,821.3v10.58M815.29,875.2v-10.42M822.4,821.3v10.58M822.7,875.2v-10.42M826.1,821.3v10.58M826.4,875.2v-10.42M829.8,821.3v10.58M830.1,875.2v-10.42M833.5,821.3v10.58M833.8,875.2v-10.42M840.9,821.3v10.58M841.2,875.2v-10.42M844.6,821.3v10.58M844.9,875.2v-10.42M848.3,821.3v10.58M848.6,875.2v-10.42M852,821.3v10.58M852.3,875.2v-10.42M687.01,821.3v16.66M687.31,875.2v-15.55M725,821.3v16.66M725.3,875.2v-15.55M762.75,821.3v16.66M763.05,875.2v-15.55M800.15,821.3v16.66M800.45,875.2v-15.55M837.2,821.3v16.66M837.5,875.2v-15.55" stroke="#2c2b26" stroke-width="1.15" opacity="0.66" fill="none"/>
<path d="M706.1,821.3v22.75M706.5,875.2v-21.9M743.9,821.3v22.75M744.3,875.2v-21.9M781.6,821.3v22.75M782,875.2v-21.9M818.7,821.3v22.75M819.1,875.2v-21.9M855.7,821.3v22.75M856.1,875.2v-21.9" stroke="#2c2b26" stroke-width="1.15" opacity="0.74" fill="none"/>
<path d="M859.39,821.3v10.58M859.69,875.2v-10.42M863.08,821.3v10.58M863.38,875.2v-10.42M866.77,821.3v10.58M867.07,875.2v-10.42M870.46,821.3v10.58M870.76,875.2v-10.42M877.84,821.3v10.58M878.14,875.2v-10.42M881.53,821.3v10.58M881.83,875.2v-10.42M885.22,821.3v10.58M885.52,875.2v-10.42M888.91,821.3v10.58M889.21,875.2v-10.42M896.3,821.3v10.58M896.6,875.2v-10.42M900,821.3v10.58M900.3,875.2v-10.42M903.7,821.3v10.58M904,875.2v-10.42M907.4,821.3v10.58M907.7,875.2v-10.42M914.8,821.3v10.58M915.1,875.2v-10.42M918.5,821.3v10.58M918.8,875.2v-10.42M922.2,821.3v10.58M922.5,875.2v-10.42M925.9,821.3v10.58M926.2,875.2v-10.42M933.2,821.3v10.58M933.5,875.2v-10.42M936.8,821.3v10.58M937.1,875.2v-10.42M940.4,821.3v10.58M940.7,875.2v-10.42M944,821.3v10.58M944.3,875.2v-10.42M951.2,821.3v10.58M951.5,875.2v-10.42M954.8,821.3v10.58M955.1,875.2v-10.42M958.4,821.3v10.58M958.7,875.2v-10.42M962,821.3v10.58M962.3,875.2v-10.42M969.21,821.3v10.58M969.51,875.2v-10.42M972.82,821.3v10.58M973.12,875.2v-10.42M976.43,821.3v10.58M976.73,875.2v-10.42M980.04,821.3v10.58M980.34,875.2v-10.42M987.26,821.3v10.58M987.56,875.2v-10.42M990.87,821.3v10.58M991.17,875.2v-10.42M994.48,821.3v10.58M994.78,875.2v-10.42M998.09,821.3v10.58M998.39,875.2v-10.42M1005.3,821.3v10.58M1005.6,875.2v-10.42M1008.9,821.3v10.58M1009.2,875.2v-10.42M1012.5,821.3v10.58M1012.8,875.2v-10.42M1016.1,821.3v10.58M1016.4,875.2v-10.42M1023.3,821.3v10.58M1023.6,875.2v-10.42M1026.9,821.3v10.58M1027.2,875.2v-10.42M1030.5,821.3v10.58M1030.8,875.2v-10.42M1034.1,821.3v10.58M1034.4,875.2v-10.42M1041.3,821.3v10.58M1041.6,875.2v-10.42M1044.9,821.3v10.58M1045.2,875.2v-10.42M1048.5,821.3v10.58M1048.8,875.2v-10.42M1052.1,821.3v10.58M1052.4,875.2v-10.42M1059.3,821.3v10.58M1059.6,875.2v-10.42M874.15,821.3v16.66M874.45,875.2v-15.55M911.1,821.3v16.66M911.4,875.2v-15.55M947.6,821.3v16.66M947.9,875.2v-15.55M983.65,821.3v16.66M983.95,875.2v-15.55M1019.7,821.3v16.66M1020,875.2v-15.55M1055.7,821.3v16.66M1056,875.2v-15.55" stroke="#2c2b26" stroke-width="1.25" opacity="0.86" fill="none"/>
<path d="M892.6,821.3v22.75M893,875.2v-21.9M929.6,821.3v22.75M930,875.2v-21.9M965.6,821.3v22.75M966,875.2v-21.9M1001.7,821.3v22.75M1002.1,875.2v-21.9M1037.7,821.3v22.75M1038.1,875.2v-21.9" stroke="#2c2b26" stroke-width="1.25" opacity="0.9" fill="none"/>
<path d="M667.6,821.3L1061.5,821.3L1061.5,877.2L667.6,877.2Z" fill="url(#rsp5)" opacity="0.55"/>
<g font-family="'Liberation Serif','DejaVu Serif',serif" font-weight="bold" font-size="15.5" fill="#1a1917">
<text transform="translate(704.8,855.5) scale(1.24,1)" text-anchor="end">1</text>
<text transform="translate(742.6,855.5) scale(1.24,1)" text-anchor="end">2</text>
<text transform="translate(780.3,855.5) scale(1.24,1)" text-anchor="end">3</text>
<text transform="translate(817.4,855.5) scale(1.24,1)" text-anchor="end">4</text>
<text transform="translate(854.4,855.5) scale(1.24,1)" text-anchor="end">5</text>
<text transform="translate(891.3,855.5) scale(1.24,1)" text-anchor="end">6</text>
<text transform="translate(928.3,855.5) scale(1.24,1)" text-anchor="end">7</text>
<text transform="translate(964.3,855.5) scale(1.24,1)" text-anchor="end">8</text>
<text transform="translate(1000.4,855.5) scale(1.24,1)" text-anchor="end">9</text>
<text transform="translate(1035.1,855.5) scale(1.24,1)" text-anchor="end">1</text>
<text transform="translate(1039.3,855.5) scale(1.24,1)">0</text>
</g>
<g font-family="'Liberation Sans',sans-serif" font-weight="bold" font-size="5.2" fill="#3a3934" opacity="0.8">
<text x="670.6" y="838.76" textLength="24" lengthAdjust="spacingAndGlyphs">0.5mm</text>
<text x="670.6" y="860.98" textLength="13" lengthAdjust="spacingAndGlyphs">mm</text>
<text x="1040.2" y="839.29" textLength="12" lengthAdjust="spacingAndGlyphs">mm</text>
</g>
<path d="M669.4,773.8Q858.7,774.8 1048,774.6L1048,804.5Q858.7,808.3 669.4,806.9Z" fill="#000" opacity="0.10" transform="translate(0.5,2.2)" filter="url(#shadow)"/>
<path d="M669.4,773.8Q858.7,774.8 1048,774.6L1048,804.5Q858.7,808.3 669.4,806.9Z" fill="#2a2024"/>
<path d="M670,781.8Q858.7,782.7 1047.5,782.4L1047.5,800.4Q858.7,802.8 670,800Z" fill="url(#inp5)"/>
<path d="M670,781.8Q858.7,782.7 1047.5,782.4L1047.5,800.4Q858.7,802.8 670,800Z" fill="url(#vsp5)"/>
<clipPath id="scp5"><path d="M669.4,773.8Q858.7,774.8 1048,774.6L1048,804.5Q858.7,808.3 669.4,806.9Z"/></clipPath>
<rect x="669.4" y="781.5" width="21.1" height="18.8" fill="url(#meshp5)" clip-path="url(#scp5)"/>
</g>
</g>
</g>
<g>
<rect x="1639.7" y="487.8" width="38.3" height="109.2" fill="#ff0000"/>
<clipPath id="cp6"><rect x="1241.2" y="489.2" width="398.5" height="107.8"/></clipPath>
<g clip-path="url(#cp6)">
<rect x="1239.2" y="487.2" width="402.5" height="111.8" fill="url(#bgp6)"/>
<g filter="url(#soft)">
<path d="M1249.8,541.9L1642.7,540.7L1642.7,600L1249.8,600Z" fill="url(#rgp6)"/>
<path d="M1249.8,541.9L1642.7,540.7L1642.7,600L1249.8,600Z" fill="url(#rsp6)"/>
<path d="M1249.8,541.9L1642.7,540.7L1642.7,600L1249.8,600Z" fill="#000" filter="url(#grain)" opacity="0.16"/>
<path d="M1249.8,541.9L1433.8,541.33L1433.8,549.13L1249.8,549.7Z" fill="#4a463c" opacity="0.30"/>
<path d="M1254.39,541.89v7.52M1258.17,541.87v7.52M1261.95,541.86v7.52M1265.72,541.85v7.52M1269.5,541.84v7.52M1273.28,541.83v7.52M1277.06,541.82v7.52M1280.83,541.8v7.52M1284.61,541.79v7.52M1288.37,541.78v7.52M1292.11,541.77v7.52M1295.85,541.76v7.52M1299.59,541.75v7.52M1303.33,541.74v7.52M1307.07,541.72v7.52M1310.81,541.71v7.52M1314.55,541.7v7.52M1318.29,541.69v7.52M1322.03,541.68v7.52M1325.75,541.67v7.52M1329.45,541.65v7.52M1333.15,541.64v7.52M1336.85,541.63v7.52M1340.55,541.62v7.52M1344.25,541.61v7.52M1347.95,541.6v7.52M1351.65,541.59v7.52M1355.35,541.58v7.52M1359.05,541.56v7.52M1362.74,541.55v7.52M1366.4,541.54v7.52M1370.08,541.53v7.52M1373.75,541.52v7.52M1377.41,541.51v7.52M1381.09,541.5v7.52M1384.75,541.48v7.52M1388.42,541.47v7.52M1392.1,541.46v7.52M1395.76,541.45v7.52M1399.41,541.44v7.52M1403.03,541.43v7.52M1406.65,541.42v7.52M1410.27,541.41v7.52M1413.89,541.39v7.52M1417.51,541.38v7.52M1421.13,541.37v7.52M1424.75,541.36v7.52M1428.37,541.35v7.52M1431.99,541.34v7.52" stroke="#2c2b26" stroke-width="1.0" opacity="0.5" fill="none"/>
<path d="M1252.5,541.89v11.14M1252.8,598v-10.91M1256.28,541.88v11.14M1256.58,598v-10.91M1260.06,541.87v11.14M1260.36,598v-10.91M1263.84,541.86v11.14M1264.14,598v-10.91M1271.39,541.83v11.14M1271.69,598v-10.91M1275.17,541.82v11.14M1275.47,598v-10.91M1278.95,541.81v11.14M1279.25,598v-10.91M1282.72,541.8v11.14M1283.02,598v-10.91M1290.24,541.78v11.14M1290.54,598v-10.91M1293.98,541.76v11.14M1294.28,598v-10.91M1297.72,541.75v11.14M1298.02,598v-10.91M1301.46,541.74v11.14M1301.76,598v-10.91M1308.94,541.72v11.14M1309.24,598v-10.91M1312.68,541.71v11.14M1312.98,598v-10.91M1316.42,541.69v11.14M1316.72,598v-10.91M1320.16,541.68v11.14M1320.46,598v-10.91M1327.6,541.66v11.14M1327.9,598v-10.91M1331.3,541.65v11.14M1331.6,598v-10.91M1335,541.64v11.14M1335.3,598v-10.91M1338.7,541.63v11.14M1339,598v-10.91M1346.1,541.6v11.14M1346.4,598v-10.91M1349.8,541.59v11.14M1350.1,598v-10.91M1353.5,541.58v11.14M1353.8,598v-10.91M1357.2,541.57v11.14M1357.5,598v-10.91M1364.57,541.55v11.14M1364.87,598v-10.91M1368.24,541.54v11.14M1368.54,598v-10.91M1371.91,541.52v11.14M1372.21,598v-10.91M1375.58,541.51v11.14M1375.88,598v-10.91M1382.92,541.49v11.14M1383.22,598v-10.91M1386.59,541.48v11.14M1386.89,598v-10.91M1390.26,541.47v11.14M1390.56,598v-10.91M1393.93,541.46v11.14M1394.23,598v-10.91M1401.22,541.43v11.14M1401.52,598v-10.91M1404.84,541.42v11.14M1405.14,598v-10.91M1408.46,541.41v11.14M1408.76,598v-10.91M1412.08,541.4v11.14M1412.38,598v-10.91M1419.32,541.38v11.14M1419.62,598v-10.91M1422.94,541.37v11.14M1423.24,598v-10.91M1426.56,541.36v11.14M1426.86,598v-10.91M1430.18,541.34v11.14M1430.48,598v-10.91M1267.61,541.85v17.55M1267.91,598v-16.32M1305.2,541.73v17.55M1305.5,598v-16.32M1342.4,541.62v17.55M1342.7,598v-16.32M1379.25,541.5v17.55M1379.55,598v-16.32M1415.7,541.39v17.55M1416,598v-16.32" stroke="#2c2b26" stroke-width="1.15" opacity="0.66" fill="none"/>
<path d="M1286.5,541.79v23.95M1286.9,598v-23M1323.9,541.67v23.95M1324.3,598v-23M1360.9,541.56v23.95M1361.3,598v-23M1397.6,541.45v23.95M1398,598v-23M1433.8,541.33v23.95M1434.2,598v-23" stroke="#2c2b26" stroke-width="1.15" opacity="0.74" fill="none"/>
<path d="M1437.43,541.32v11.14M1437.73,598v-10.91M1441.06,541.31v11.14M1441.36,598v-10.91M1444.69,541.3v11.14M1444.99,598v-10.91M1448.32,541.29v11.14M1448.62,598v-10.91M1455.58,541.27v11.14M1455.88,598v-10.91M1459.21,541.26v11.14M1459.51,598v-10.91M1462.84,541.24v11.14M1463.14,598v-10.91M1466.47,541.23v11.14M1466.77,598v-10.91M1473.71,541.21v11.14M1474.01,598v-10.91M1477.32,541.2v11.14M1477.62,598v-10.91M1480.93,541.19v11.14M1481.23,598v-10.91M1484.54,541.18v11.14M1484.84,598v-10.91M1491.76,541.16v11.14M1492.06,598v-10.91M1495.37,541.14v11.14M1495.67,598v-10.91M1498.98,541.13v11.14M1499.28,598v-10.91M1502.59,541.12v11.14M1502.89,598v-10.91M1509.8,541.1v11.14M1510.1,598v-10.91M1513.4,541.09v11.14M1513.7,598v-10.91M1517,541.08v11.14M1517.3,598v-10.91M1520.6,541.07v11.14M1520.9,598v-10.91M1527.8,541.04v11.14M1528.1,598v-10.91M1531.4,541.03v11.14M1531.7,598v-10.91M1535,541.02v11.14M1535.3,598v-10.91M1538.6,541.01v11.14M1538.9,598v-10.91M1545.8,540.99v11.14M1546.1,598v-10.91M1549.4,540.98v11.14M1549.7,598v-10.91M1553,540.97v11.14M1553.3,598v-10.91M1556.6,540.96v11.14M1556.9,598v-10.91M1563.8,540.93v11.14M1564.1,598v-10.91M1567.4,540.92v11.14M1567.7,598v-10.91M1571,540.91v11.14M1571.3,598v-10.91M1574.6,540.9v11.14M1574.9,598v-10.91M1581.78,540.88v11.14M1582.08,598v-10.91M1585.36,540.87v11.14M1585.66,598v-10.91M1588.94,540.86v11.14M1589.24,598v-10.91M1592.52,540.85v11.14M1592.82,598v-10.91M1599.68,540.82v11.14M1599.98,598v-10.91M1603.26,540.81v11.14M1603.56,598v-10.91M1606.84,540.8v11.14M1607.14,598v-10.91M1610.42,540.79v11.14M1610.72,598v-10.91M1617.58,540.77v11.14M1617.88,598v-10.91M1621.16,540.76v11.14M1621.46,598v-10.91M1624.74,540.75v11.14M1625.04,598v-10.91M1628.32,540.74v11.14M1628.62,598v-10.91M1635.48,540.71v11.14M1635.78,598v-10.91M1639.06,540.7v11.14M1639.36,598v-10.91M1451.95,541.28v17.55M1452.25,598v-16.32M1488.15,541.17v17.55M1488.45,598v-16.32M1524.2,541.06v17.55M1524.5,598v-16.32M1560.2,540.94v17.55M1560.5,598v-16.32M1596.1,540.83v17.55M1596.4,598v-16.32M1631.9,540.72v17.55M1632.2,598v-16.32" stroke="#2c2b26" stroke-width="1.25" opacity="0.86" fill="none"/>
<path d="M1470.1,541.22v23.95M1470.5,598v-23M1506.2,541.11v23.95M1506.6,598v-23M1542.2,541v23.95M1542.6,598v-23M1578.2,540.89v23.95M1578.6,598v-23M1614,540.78v23.95M1614.4,598v-23" stroke="#2c2b26" stroke-width="1.25" opacity="0.9" fill="none"/>
<path d="M1249.8,541.9L1642.7,540.7L1642.7,600L1249.8,600Z" fill="url(#rsp6)" opacity="0.55"/>
<g font-family="'Liberation Serif','DejaVu Serif',serif" font-weight="bold" font-size="16.32" fill="#1a1917">
<text transform="translate(1285.2,577.4) scale(1.24,1)" text-anchor="end">1</text>
<text transform="translate(1322.6,577.4) scale(1.24,1)" text-anchor="end">2</text>
<text transform="translate(1359.6,577.4) scale(1.24,1)" text-anchor="end">3</text>
<text transform="translate(1396.3,577.4) scale(1.24,1)" text-anchor="end">4</text>
<text transform="translate(1432.5,577.4) scale(1.24,1)" text-anchor="end">5</text>
<text transform="translate(1468.8,577.4) scale(1.24,1)" text-anchor="end">6</text>
<text transform="translate(1504.9,577.4) scale(1.24,1)" text-anchor="end">7</text>
<text transform="translate(1540.9,577.4) scale(1.24,1)" text-anchor="end">8</text>
<text transform="translate(1576.9,577.4) scale(1.24,1)" text-anchor="end">9</text>
<text transform="translate(1611.4,577.4) scale(1.24,1)" text-anchor="end">1</text>
<text transform="translate(1615.6,577.4) scale(1.24,1)">0</text>
</g>
<g font-family="'Liberation Sans',sans-serif" font-weight="bold" font-size="5.2" fill="#3a3934" opacity="0.8">
<text x="1252.8" y="559.68" textLength="24" lengthAdjust="spacingAndGlyphs">0.5mm</text>
<text x="1252.8" y="583.08" textLength="13" lengthAdjust="spacingAndGlyphs">mm</text>
<text x="1616.5" y="560.24" textLength="12" lengthAdjust="spacingAndGlyphs">mm</text>
</g>
<path d="M1250.6,494.1Q1444.15,496.65 1637.7,494.8L1637.7,528.9Q1444.15,529.3 1250.6,528.1Z" fill="#000" opacity="0.10" transform="translate(0.5,2.2)" filter="url(#shadow)"/>
<path d="M1250.6,494.1Q1444.15,496.65 1637.7,494.8L1637.7,528.9Q1444.15,529.3 1250.6,528.1Z" fill="#1e2024"/>
<path d="M1251.2,501.5Q1444.15,504.05 1637.2,502.2L1637.2,522.5Q1444.15,523.15 1251.2,522.2Z" fill="url(#inp6)"/>
<path d="M1251.2,501.5Q1444.15,504.05 1637.2,502.2L1637.2,522.5Q1444.15,523.15 1251.2,522.2Z" fill="url(#vsp6)"/>
<clipPath id="scp6"><path d="M1250.6,494.1Q1444.15,496.65 1637.7,494.8L1637.7,528.9Q1444.15,529.3 1250.6,528.1Z"/></clipPath>
<rect x="1250.6" y="502.3" width="29.6" height="19.4" fill="url(#meshp6)" clip-path="url(#scp6)"/>
</g>
</g>
</g>
<g>
<rect x="1639.7" y="616.7" width="35.1" height="108.5" fill="#000000"/>
<clipPath id="cp7"><rect x="1241.2" y="616.2" width="398.5" height="109.3"/></clipPath>
<g clip-path="url(#cp7)">
<rect x="1239.2" y="614.2" width="402.5" height="113.3" fill="url(#bgp7)"/>
<g filter="url(#soft)">
<path d="M1244.6,671.5L1642.7,673L1642.7,728.5L1244.6,728.5Z" fill="url(#rgp7)"/>
<path d="M1244.6,671.5L1642.7,673L1642.7,728.5L1244.6,728.5Z" fill="url(#rsp7)"/>
<path d="M1244.6,671.5L1642.7,673L1642.7,728.5L1244.6,728.5Z" fill="#000" filter="url(#grain)" opacity="0.16"/>
<path d="M1244.6,671.5L1432,672.21L1432,679.67L1244.6,678.96Z" fill="#4a463c" opacity="0.30"/>
<path d="M1246.33,671.51v7.19M1250.16,671.52v7.19M1253.99,671.54v7.19M1257.82,671.55v7.19M1261.65,671.56v7.19M1265.47,671.58v7.19M1269.3,671.59v7.19M1273.13,671.61v7.19M1276.96,671.62v7.19M1280.79,671.64v7.19M1284.6,671.65v7.19M1288.38,671.67v7.19M1292.17,671.68v7.19M1295.96,671.7v7.19M1299.75,671.71v7.19M1303.55,671.72v7.19M1307.34,671.74v7.19M1311.12,671.75v7.19M1314.91,671.77v7.19M1318.7,671.78v7.19M1322.45,671.8v7.19M1326.15,671.81v7.19M1329.85,671.82v7.19M1333.55,671.84v7.19M1337.25,671.85v7.19M1340.95,671.87v7.19M1344.65,671.88v7.19M1348.35,671.89v7.19M1352.05,671.91v7.19M1355.75,671.92v7.19M1359.47,671.94v7.19M1363.21,671.95v7.19M1366.95,671.96v7.19M1370.69,671.98v7.19M1374.43,671.99v7.19M1378.17,672.01v7.19M1381.91,672.02v7.19M1385.65,672.04v7.19M1389.39,672.05v7.19M1393.13,672.06v7.19M1396.85,672.08v7.19M1400.55,672.09v7.19M1404.25,672.11v7.19M1407.95,672.12v7.19M1411.65,672.13v7.19M1415.35,672.15v7.19M1419.05,672.16v7.19M1422.75,672.18v7.19M1426.45,672.19v7.19M1430.15,672.2v7.19" stroke="#2c2b26" stroke-width="1.0" opacity="0.5" fill="none"/>
<path d="M1248.25,671.51v10.65M1248.55,726.5v-10.48M1252.08,671.53v10.65M1252.38,726.5v-10.48M1255.9,671.54v10.65M1256.2,726.5v-10.48M1259.73,671.56v10.65M1260.03,726.5v-10.48M1267.39,671.59v10.65M1267.69,726.5v-10.48M1271.22,671.6v10.65M1271.52,726.5v-10.48M1275.04,671.62v10.65M1275.34,726.5v-10.48M1278.87,671.63v10.65M1279.17,726.5v-10.48M1286.49,671.66v10.65M1286.79,726.5v-10.48M1290.28,671.67v10.65M1290.58,726.5v-10.48M1294.07,671.69v10.65M1294.37,726.5v-10.48M1297.86,671.7v10.65M1298.16,726.5v-10.48M1305.44,671.73v10.65M1305.74,726.5v-10.48M1309.23,671.75v10.65M1309.53,726.5v-10.48M1313.02,671.76v10.65M1313.32,726.5v-10.48M1316.81,671.77v10.65M1317.11,726.5v-10.48M1324.3,671.8v10.65M1324.6,726.5v-10.48M1328,671.82v10.65M1328.3,726.5v-10.48M1331.7,671.83v10.65M1332,726.5v-10.48M1335.4,671.84v10.65M1335.7,726.5v-10.48M1342.8,671.87v10.65M1343.1,726.5v-10.48M1346.5,671.89v10.65M1346.8,726.5v-10.48M1350.2,671.9v10.65M1350.5,726.5v-10.48M1353.9,671.91v10.65M1354.2,726.5v-10.48M1361.34,671.94v10.65M1361.64,726.5v-10.48M1365.08,671.96v10.65M1365.38,726.5v-10.48M1368.82,671.97v10.65M1369.12,726.5v-10.48M1372.56,671.99v10.65M1372.86,726.5v-10.48M1380.04,672.01v10.65M1380.34,726.5v-10.48M1383.78,672.03v10.65M1384.08,726.5v-10.48M1387.52,672.04v10.65M1387.82,726.5v-10.48M1391.26,672.06v10.65M1391.56,726.5v-10.48M1398.7,672.09v10.65M1399,726.5v-10.48M1402.4,672.1v10.65M1402.7,726.5v-10.48M1406.1,672.11v10.65M1406.4,726.5v-10.48M1409.8,672.13v10.65M1410.1,726.5v-10.48M1417.2,672.16v10.65M1417.5,726.5v-10.48M1420.9,672.17v10.65M1421.2,726.5v-10.48M1424.6,672.18v10.65M1424.9,726.5v-10.48M1428.3,672.2v10.65M1428.6,726.5v-10.48M1263.56,671.57v16.77M1263.86,726.5v-15.64M1301.65,671.72v16.77M1301.95,726.5v-15.64M1339.1,671.86v16.77M1339.4,726.5v-15.64M1376.3,672v16.77M1376.6,726.5v-15.64M1413.5,672.14v16.77M1413.8,726.5v-15.64" stroke="#2c2b26" stroke-width="1.15" opacity="0.66" fill="none"/>
<path d="M1282.7,671.64v22.9M1283.1,726.5v-22.03M1320.6,671.79v22.9M1321,726.5v-22.03M1357.6,671.93v22.9M1358,726.5v-22.03M1395,672.07v22.9M1395.4,726.5v-22.03M1432,672.21v22.9M1432.4,726.5v-22.03" stroke="#2c2b26" stroke-width="1.15" opacity="0.74" fill="none"/>
<path d="M1435.66,672.23v10.65M1435.96,726.5v-10.48M1439.32,672.24v10.65M1439.62,726.5v-10.48M1442.98,672.25v10.65M1443.28,726.5v-10.48M1446.64,672.27v10.65M1446.94,726.5v-10.48M1453.96,672.29v10.65M1454.26,726.5v-10.48M1457.62,672.31v10.65M1457.92,726.5v-10.48M1461.28,672.32v10.65M1461.58,726.5v-10.48M1464.94,672.34v10.65M1465.24,726.5v-10.48M1472.18,672.36v10.65M1472.48,726.5v-10.48M1475.76,672.38v10.65M1476.06,726.5v-10.48M1479.34,672.39v10.65M1479.64,726.5v-10.48M1482.92,672.4v10.65M1483.22,726.5v-10.48M1490.08,672.43v10.65M1490.38,726.5v-10.48M1493.66,672.45v10.65M1493.96,726.5v-10.48M1497.24,672.46v10.65M1497.54,726.5v-10.48M1500.82,672.47v10.65M1501.12,726.5v-10.48M1508.03,672.5v10.65M1508.33,726.5v-10.48M1511.66,672.51v10.65M1511.96,726.5v-10.48M1515.29,672.53v10.65M1515.59,726.5v-10.48M1518.92,672.54v10.65M1519.22,726.5v-10.48M1526.18,672.57v10.65M1526.48,726.5v-10.48M1529.81,672.58v10.65M1530.11,726.5v-10.48M1533.44,672.6v10.65M1533.74,726.5v-10.48M1537.07,672.61v10.65M1537.37,726.5v-10.48M1544.26,672.64v10.65M1544.56,726.5v-10.48M1547.82,672.65v10.65M1548.12,726.5v-10.48M1551.38,672.66v10.65M1551.68,726.5v-10.48M1554.94,672.68v10.65M1555.24,726.5v-10.48M1562.06,672.71v10.65M1562.36,726.5v-10.48M1565.62,672.72v10.65M1565.92,726.5v-10.48M1569.18,672.73v10.65M1569.48,726.5v-10.48M1572.74,672.75v10.65M1573.04,726.5v-10.48M1579.9,672.77v10.65M1580.2,726.5v-10.48M1583.5,672.79v10.65M1583.8,726.5v-10.48M1587.1,672.8v10.65M1587.4,726.5v-10.48M1590.7,672.81v10.65M1591,726.5v-10.48M1597.9,672.84v10.65M1598.2,726.5v-10.48M1601.5,672.85v10.65M1601.8,726.5v-10.48M1605.1,672.87v10.65M1605.4,726.5v-10.48M1608.7,672.88v10.65M1609,726.5v-10.48M1615.9,672.91v10.65M1616.2,726.5v-10.48M1619.5,672.92v10.65M1619.8,726.5v-10.48M1623.1,672.94v10.65M1623.4,726.5v-10.48M1626.7,672.95v10.65M1627,726.5v-10.48M1633.9,672.98v10.65M1634.2,726.5v-10.48M1637.5,672.99v10.65M1637.8,726.5v-10.48M1450.3,672.28v16.77M1450.6,726.5v-15.64M1486.5,672.42v16.77M1486.8,726.5v-15.64M1522.55,672.56v16.77M1522.85,726.5v-15.64M1558.5,672.69v16.77M1558.8,726.5v-15.64M1594.3,672.83v16.77M1594.6,726.5v-15.64M1630.3,672.96v16.77M1630.6,726.5v-15.64" stroke="#2c2b26" stroke-width="1.25" opacity="0.86" fill="none"/>
<path d="M1468.6,672.35v22.9M1469,726.5v-22.03M1504.4,672.49v22.9M1504.8,726.5v-22.03M1540.7,672.62v22.9M1541.1,726.5v-22.03M1576.3,672.76v22.9M1576.7,726.5v-22.03M1612.3,672.9v22.9M1612.7,726.5v-22.03" stroke="#2c2b26" stroke-width="1.25" opacity="0.9" fill="none"/>
<path d="M1244.6,671.5L1642.7,673L1642.7,728.5L1244.6,728.5Z" fill="url(#rsp7)" opacity="0.55"/>
<g font-family="'Liberation Serif','DejaVu Serif',serif" font-weight="bold" font-size="15.6" fill="#1a1917">
<text transform="translate(1281.4,705.9) scale(1.24,1)" text-anchor="end">1</text>
<text transform="translate(1319.3,705.9) scale(1.24,1)" text-anchor="end">2</text>
<text transform="translate(1356.3,705.9) scale(1.24,1)" text-anchor="end">3</text>
<text transform="translate(1393.7,705.9) scale(1.24,1)" text-anchor="end">4</text>
<text transform="translate(1430.7,705.9) scale(1.24,1)" text-anchor="end">5</text>
<text transform="translate(1467.3,705.9) scale(1.24,1)" text-anchor="end">6</text>
<text transform="translate(1503.1,705.9) scale(1.24,1)" text-anchor="end">7</text>
<text transform="translate(1539.4,705.9) scale(1.24,1)" text-anchor="end">8</text>
<text transform="translate(1575,705.9) scale(1.24,1)" text-anchor="end">9</text>
<text transform="translate(1609.7,705.9) scale(1.24,1)" text-anchor="end">1</text>
<text transform="translate(1613.9,705.9) scale(1.24,1)">0</text>
</g>
<g font-family="'Liberation Sans',sans-serif" font-weight="bold" font-size="5.2" fill="#3a3934" opacity="0.8">
<text x="1247.6" y="689.82" textLength="24" lengthAdjust="spacingAndGlyphs">0.5mm</text>
<text x="1247.6" y="712.19" textLength="13" lengthAdjust="spacingAndGlyphs">mm</text>
<text x="1614.8" y="690.36" textLength="12" lengthAdjust="spacingAndGlyphs">mm</text>
</g>
<path d="M1250.6,623Q1442.3,626.95 1634,629.3L1634,658.1Q1442.3,657.45 1250.6,654.4Z" fill="#000" opacity="0.10" transform="translate(0.5,2.2)" filter="url(#shadow)"/>
<path d="M1250.6,623Q1442.3,626.95 1634,629.3L1634,658.1Q1442.3,657.45 1250.6,654.4Z" fill="#121416"/>
<path d="M1251.2,630.3Q1442.3,633.95 1631,636L1631,653.5Q1442.3,652.45 1251.2,649Z" fill="url(#inp7)"/>
<path d="M1251.2,630.3Q1442.3,633.95 1631,636L1631,653.5Q1442.3,652.45 1251.2,649Z" fill="url(#vsp7)"/>
<clipPath id="scp7"><path d="M1250.6,623Q1442.3,626.95 1634,629.3L1634,658.1Q1442.3,657.45 1250.6,654.4Z"/></clipPath>
<rect x="1250.6" y="630" width="25.1" height="19.3" fill="url(#meshp7)" clip-path="url(#scp7)"/>
</g>
</g>
</g>
<g>
<rect x="1641" y="767.3" width="35.2" height="108.1" fill="#0000ff"/>
<clipPath id="cp8"><rect x="1240.2" y="767" width="400.8" height="108.4"/></clipPath>
<g clip-path="url(#cp8)">
<rect x="1238.2" y="765" width="404.8" height="112.4" fill="url(#bgp8)"/>
<g filter="url(#soft)">
<path d="M1245.2,818.7L1644,820.3L1644,878.4L1245.2,878.4Z" fill="url(#rgp8)"/>
<path d="M1245.2,818.7L1644,820.3L1644,878.4L1245.2,878.4Z" fill="url(#rsp8)"/>
<path d="M1245.2,818.7L1644,820.3L1644,878.4L1245.2,878.4Z" fill="#000" filter="url(#grain)" opacity="0.16"/>
<path d="M1245.2,818.7L1432.3,819.46L1432.3,827.28L1245.2,826.53Z" fill="#4a463c" opacity="0.30"/>
<path d="M1249.39,818.72v7.55M1253.24,818.73v7.55M1257.09,818.75v7.55M1260.94,818.76v7.55M1264.78,818.78v7.55M1268.63,818.79v7.55M1272.48,818.81v7.55M1276.33,818.83v7.55M1280.18,818.84v7.55M1284,818.86v7.55M1287.81,818.87v7.55M1291.62,818.89v7.55M1295.43,818.9v7.55M1299.24,818.92v7.55M1303.06,818.93v7.55M1306.87,818.95v7.55M1310.67,818.96v7.55M1314.49,818.98v7.55M1318.3,819v7.55M1322.07,819.01v7.55M1325.81,819.03v7.55M1329.55,819.04v7.55M1333.29,819.06v7.55M1337.03,819.07v7.55M1340.77,819.09v7.55M1344.51,819.1v7.55M1348.25,819.12v7.55M1351.99,819.13v7.55M1355.73,819.15v7.55M1359.47,819.16v7.55M1363.21,819.18v7.55M1366.95,819.19v7.55M1370.69,819.21v7.55M1374.43,819.22v7.55M1378.17,819.24v7.55M1381.91,819.25v7.55M1385.65,819.27v7.55M1389.39,819.28v7.55M1393.13,819.3v7.55M1396.87,819.31v7.55M1400.6,819.33v7.55M1404.33,819.34v7.55M1408.06,819.36v7.55M1411.79,819.37v7.55M1415.51,819.39v7.55M1419.24,819.4v7.55M1422.97,819.42v7.55M1426.7,819.43v7.55M1430.43,819.45v7.55" stroke="#2c2b26" stroke-width="1.0" opacity="0.5" fill="none"/>
<path d="M1247.47,818.71v11.18M1247.77,876.4v-10.95M1251.32,818.72v11.18M1251.62,876.4v-10.95M1255.16,818.74v11.18M1255.46,876.4v-10.95M1259.01,818.76v11.18M1259.31,876.4v-10.95M1266.71,818.79v11.18M1267.01,876.4v-10.95M1270.56,818.8v11.18M1270.86,876.4v-10.95M1274.4,818.82v11.18M1274.7,876.4v-10.95M1278.25,818.83v11.18M1278.55,876.4v-10.95M1285.91,818.86v11.18M1286.21,876.4v-10.95M1289.72,818.88v11.18M1290.02,876.4v-10.95M1293.53,818.9v11.18M1293.83,876.4v-10.95M1297.34,818.91v11.18M1297.64,876.4v-10.95M1304.96,818.94v11.18M1305.26,876.4v-10.95M1308.77,818.96v11.18M1309.07,876.4v-10.95M1312.58,818.97v11.18M1312.88,876.4v-10.95M1316.39,818.99v11.18M1316.69,876.4v-10.95M1323.94,819.02v11.18M1324.24,876.4v-10.95M1327.68,819.03v11.18M1327.98,876.4v-10.95M1331.42,819.05v11.18M1331.72,876.4v-10.95M1335.16,819.06v11.18M1335.46,876.4v-10.95M1342.64,819.09v11.18M1342.94,876.4v-10.95M1346.38,819.11v11.18M1346.68,876.4v-10.95M1350.12,819.12v11.18M1350.42,876.4v-10.95M1353.86,819.14v11.18M1354.16,876.4v-10.95M1361.34,819.17v11.18M1361.64,876.4v-10.95M1365.08,819.18v11.18M1365.38,876.4v-10.95M1368.82,819.2v11.18M1369.12,876.4v-10.95M1372.56,819.21v11.18M1372.86,876.4v-10.95M1380.04,819.25v11.18M1380.34,876.4v-10.95M1383.78,819.26v11.18M1384.08,876.4v-10.95M1387.52,819.28v11.18M1387.82,876.4v-10.95M1391.26,819.29v11.18M1391.56,876.4v-10.95M1398.73,819.32v11.18M1399.03,876.4v-10.95M1402.46,819.34v11.18M1402.76,876.4v-10.95M1406.19,819.35v11.18M1406.49,876.4v-10.95M1409.92,819.37v11.18M1410.22,876.4v-10.95M1417.38,819.4v11.18M1417.68,876.4v-10.95M1421.11,819.41v11.18M1421.41,876.4v-10.95M1424.84,819.43v11.18M1425.14,876.4v-10.95M1428.57,819.44v11.18M1428.87,876.4v-10.95M1262.86,818.77v17.61M1263.16,876.4v-16.37M1301.15,818.93v17.61M1301.45,876.4v-16.37M1338.9,819.08v17.61M1339.2,876.4v-16.37M1376.3,819.23v17.61M1376.6,876.4v-16.37M1413.65,819.38v17.61M1413.95,876.4v-16.37" stroke="#2c2b26" stroke-width="1.15" opacity="0.66" fill="none"/>
<path d="M1282.1,818.85v24.04M1282.5,876.4v-23.08M1320.2,819v24.04M1320.6,876.4v-23.08M1357.6,819.15v24.04M1358,876.4v-23.08M1395,819.31v24.04M1395.4,876.4v-23.08M1432.3,819.46v24.04M1432.7,876.4v-23.08" stroke="#2c2b26" stroke-width="1.15" opacity="0.74" fill="none"/>
<path d="M1436.03,819.47v11.18M1436.33,876.4v-10.95M1439.76,819.49v11.18M1440.06,876.4v-10.95M1443.49,819.5v11.18M1443.79,876.4v-10.95M1447.22,819.52v11.18M1447.52,876.4v-10.95M1454.68,819.55v11.18M1454.98,876.4v-10.95M1458.41,819.56v11.18M1458.71,876.4v-10.95M1462.14,819.58v11.18M1462.44,876.4v-10.95M1465.87,819.59v11.18M1466.17,876.4v-10.95M1473.2,819.62v11.18M1473.5,876.4v-10.95M1476.8,819.64v11.18M1477.1,876.4v-10.95M1480.4,819.65v11.18M1480.7,876.4v-10.95M1484,819.67v11.18M1484.3,876.4v-10.95M1491.2,819.69v11.18M1491.5,876.4v-10.95M1494.8,819.71v11.18M1495.1,876.4v-10.95M1498.4,819.72v11.18M1498.7,876.4v-10.95M1502,819.74v11.18M1502.3,876.4v-10.95M1509.26,819.77v11.18M1509.56,876.4v-10.95M1512.92,819.78v11.18M1513.22,876.4v-10.95M1516.58,819.8v11.18M1516.88,876.4v-10.95M1520.24,819.81v11.18M1520.54,876.4v-10.95M1527.56,819.84v11.18M1527.86,876.4v-10.95M1531.22,819.86v11.18M1531.52,876.4v-10.95M1534.88,819.87v11.18M1535.18,876.4v-10.95M1538.54,819.89v11.18M1538.84,876.4v-10.95M1545.83,819.92v11.18M1546.13,876.4v-10.95M1549.46,819.93v11.18M1549.76,876.4v-10.95M1553.09,819.94v11.18M1553.39,876.4v-10.95M1556.72,819.96v11.18M1557.02,876.4v-10.95M1563.98,819.99v11.18M1564.28,876.4v-10.95M1567.61,820v11.18M1567.91,876.4v-10.95M1571.24,820.02v11.18M1571.54,876.4v-10.95M1574.87,820.03v11.18M1575.17,876.4v-10.95M1582.13,820.06v11.18M1582.43,876.4v-10.95M1585.76,820.08v11.18M1586.06,876.4v-10.95M1589.39,820.09v11.18M1589.69,876.4v-10.95M1593.02,820.11v11.18M1593.32,876.4v-10.95M1600.28,820.14v11.18M1600.58,876.4v-10.95M1603.91,820.15v11.18M1604.21,876.4v-10.95M1607.54,820.16v11.18M1607.84,876.4v-10.95M1611.17,820.18v11.18M1611.47,876.4v-10.95M1618.43,820.21v11.18M1618.73,876.4v-10.95M1622.06,820.22v11.18M1622.36,876.4v-10.95M1625.69,820.24v11.18M1625.99,876.4v-10.95M1629.32,820.25v11.18M1629.62,876.4v-10.95M1636.58,820.28v11.18M1636.88,876.4v-10.95M1640.21,820.3v11.18M1640.51,876.4v-10.95M1450.95,819.53v17.61M1451.25,876.4v-16.37M1487.6,819.68v17.61M1487.9,876.4v-16.37M1523.9,819.83v17.61M1524.2,876.4v-16.37M1560.35,819.97v17.61M1560.65,876.4v-16.37M1596.65,820.12v17.61M1596.95,876.4v-16.37M1632.95,820.27v17.61M1633.25,876.4v-16.37" stroke="#2c2b26" stroke-width="1.25" opacity="0.86" fill="none"/>
<path d="M1469.6,819.61v24.04M1470,876.4v-23.08M1505.6,819.75v24.04M1506,876.4v-23.08M1542.2,819.9v24.04M1542.6,876.4v-23.08M1578.5,820.05v24.04M1578.9,876.4v-23.08M1614.8,820.19v24.04M1615.2,876.4v-23.08" stroke="#2c2b26" stroke-width="1.25" opacity="0.9" fill="none"/>
<path d="M1245.2,818.7L1644,820.3L1644,878.4L1245.2,878.4Z" fill="url(#rsp8)" opacity="0.55"/>
<g font-family="'Liberation Serif','DejaVu Serif',serif" font-weight="bold" font-size="16.38" fill="#1a1917">
<text transform="translate(1280.8,855.8) scale(1.24,1)" text-anchor="end">1</text>
<text transform="translate(1318.9,855.8) scale(1.24,1)" text-anchor="end">2</text>
<text transform="translate(1356.3,855.8) scale(1.24,1)" text-anchor="end">3</text>
<text transform="translate(1393.7,855.8) scale(1.24,1)" text-anchor="end">4</text>
<text transform="translate(1431,855.8) scale(1.24,1)" text-anchor="end">5</text>
<text transform="translate(1468.3,855.8) scale(1.24,1)" text-anchor="end">6</text>
<text transform="translate(1504.3,855.8) scale(1.24,1)" text-anchor="end">7</text>
<text transform="translate(1540.9,855.8) scale(1.24,1)" text-anchor="end">8</text>
<text transform="translate(1577.2,855.8) scale(1.24,1)" text-anchor="end">9</text>
<text transform="translate(1612.2,855.8) scale(1.24,1)" text-anchor="end">1</text>
<text transform="translate(1616.4,855.8) scale(1.24,1)">0</text>
</g>
<g font-family="'Liberation Sans',sans-serif" font-weight="bold" font-size="5.2" fill="#3a3934" opacity="0.8">
<text x="1248.2" y="837.95" textLength="24" lengthAdjust="spacingAndGlyphs">0.5mm</text>
<text x="1248.2" y="861.42" textLength="13" lengthAdjust="spacingAndGlyphs">mm</text>
<text x="1617.3" y="838.51" textLength="12" lengthAdjust="spacingAndGlyphs">mm</text>
</g>
<path d="M1249.8,770.5Q1443.4,773.8 1637,774.7L1637,806.5Q1443.4,807 1249.8,804.3Z" fill="#000" opacity="0.10" transform="translate(0.5,2.2)" filter="url(#shadow)"/>
<path d="M1249.8,770.5Q1443.4,773.8 1637,774.7L1637,806.5Q1443.4,807 1249.8,804.3Z" fill="#121412"/>
<path d="M1250.4,779.1Q1443.4,781.4 1636.5,781.3L1636.5,800.6Q1443.4,801.1 1250.4,798.4Z" fill="url(#inp8)"/>
<path d="M1250.4,779.1Q1443.4,781.4 1636.5,781.3L1636.5,800.6Q1443.4,801.1 1250.4,798.4Z" fill="url(#vsp8)"/>
<clipPath id="scp8"><path d="M1249.8,770.5Q1443.4,773.8 1637,774.7L1637,806.5Q1443.4,807 1249.8,804.3Z"/></clipPath>
<rect x="1249.8" y="778.8" width="25.5" height="19.9" fill="url(#meshp8)" clip-path="url(#scp8)"/>
</g>
</g>
</g>
<path d="M263.9,732.6H269.7V753.1H275.6L266.8,770.4L258,753.1H263.9Z" fill="#000"/>
<path d="M296.8,728.7L305.5,746H299.95V766.9H293.65V746H288.1Z" fill="#000"/>
<text transform="translate(310.85,762.7) scale(1.085,1.0)" font-size="47.5" stroke="#000" stroke-width="0.5">±</text>
<text transform="translate(340.3,760.8) scale(1.085,1.0)" font-size="45.84">E</text>
<path d="M839.9,728.1H845.7V749.3H851.6L842.8,766L834,749.3H839.9Z" fill="#000"/>
<path d="M868,728.5L876.7,745.5H870.95V766.5H865.05V745.5H859.3Z" fill="#000"/>
<text transform="translate(879.55,764.3) scale(1.085,1.0)" font-size="47.5" stroke="#000" stroke-width="0.5">±</text>
<text transform="translate(910.3,763) scale(1.085,1.0)" font-size="45.84">E</text>
<path d="M1423.8,730H1429.8V750.3H1435.7L1426.8,767.6L1417.9,750.3H1423.8Z" fill="#000"/>
<path d="M1450.3,728.3L1459,745.1H1453.3V765.6H1447.3V745.1H1441.6Z" fill="#000"/>
<text transform="translate(1462.85,764.7) scale(1.085,1.0)" font-size="47.5" stroke="#000" stroke-width="0.5">±</text>
<text transform="translate(1494.4,763) scale(1.085,1.0)" font-size="45.84">E</text>
<g>
<clipPath id="clip_a"><rect x="97.4" y="45.5" width="436" height="359"/></clipPath>
<g clip-path="url(#clip_a)" fill="none" stroke-width="3.6" stroke-linejoin="round" stroke-linecap="butt">
<path d="M97.4,331.8C104.67,331.5 111.93,331.16 119.2,330.9C130.1,330.52 141,330.29 151.9,330.01C166.43,329.63 180.97,328.92 195.5,328.93C206.4,328.93 217.3,329.3 228.2,329.56C239.1,329.81 250,330.13 260.9,330.46C279.07,330.99 297.23,331.73 315.4,332.25C333.57,332.77 351.73,333.22 369.9,333.6C388.07,333.97 406.23,334.12 424.4,334.5C442.57,334.87 460.73,335.51 478.9,335.84C497.07,336.17 515.23,336.26 533.4,336.47" stroke="#0000ff"/>
<path d="M97.4,293.21C98.49,292.01 99.58,290.64 100.67,289.62C102.12,288.26 103.58,287.3 105.03,286.48C107.94,284.83 110.84,284.78 113.75,284.24C119.2,283.22 124.65,283.51 130.1,283.34C137.37,283.11 144.63,283.18 151.9,283.34C162.8,283.58 173.7,284.09 184.6,285.13C191.87,285.83 199.13,286.93 206.4,287.82C213.67,288.72 220.93,289.62 228.2,290.52C242.73,292.31 257.27,294.26 271.8,295.9C286.33,297.55 300.87,299.03 315.4,300.39C333.57,302.09 351.73,303.53 369.9,304.88C388.07,306.22 406.23,307.27 424.4,308.47C442.57,309.66 460.73,310.94 478.9,312.06C497.07,313.18 515.23,314.15 533.4,315.2" stroke="#ff0000"/>
<path d="M97.4,186.41C98.13,180.42 98.85,173.8 99.58,168.46C100.67,160.44 101.76,154.11 102.85,148.71C104.3,141.52 105.76,137.34 107.21,133.45C109.03,128.59 110.84,126.68 112.66,124.48C114.84,121.84 117.02,121.23 119.2,119.99C124.65,116.89 130.1,117.15 135.55,115.5C141,113.86 146.45,111.32 151.9,110.12C157.35,108.92 162.8,108.76 168.25,108.32C175.52,107.74 182.78,107.33 190.05,107.43C195.5,107.5 200.95,107.88 206.4,108.32C217.3,109.22 228.2,111.02 239.1,112.81C250,114.61 260.9,116.94 271.8,119.09C286.33,121.97 300.87,125.03 315.4,128.07C333.57,131.88 351.73,135.85 369.9,139.74C388.07,143.63 406.23,147.52 424.4,151.41C442.57,155.29 460.73,159.33 478.9,163.07C497.07,166.81 515.23,170.25 533.4,173.84" stroke="#000000"/>
</g>
<path d="M97.4,404.5v-6.5M151.9,404.5v-3.6M206.4,404.5v-6.5M260.9,404.5v-3.6M315.4,404.5v-6.5M369.9,404.5v-3.6M424.4,404.5v-6.5M478.9,404.5v-3.6M533.4,404.5v-6.5M97.4,404.5h6.5M97.4,359.62h3.6M97.4,314.75h6.5M97.4,269.88h3.6M97.4,225h6.5M97.4,180.12h3.6M97.4,135.25h6.5M97.4,90.38h3.6M97.4,45.5h6.5" stroke="#000" stroke-width="2.4" fill="none"/>
<rect x="97.4" y="45.5" width="436" height="359" fill="none" stroke="#000" stroke-width="2.55"/>
<g font-size="35.4" fill="#000">
<text x="100.5" y="441.3" text-anchor="middle">400</text>
<text x="209.8" y="441.3" text-anchor="middle">500</text>
<text x="319.1" y="441.3" text-anchor="middle">600</text>
<text x="428.4" y="441.3" text-anchor="middle">700</text>
<text x="537.7" y="441.3" text-anchor="middle">800</text>
<text x="88.3" y="415.9" text-anchor="end">0</text>
<text x="88.3" y="326.15" text-anchor="end">10</text>
<text x="88.3" y="236.4" text-anchor="end">20</text>
<text x="88.3" y="146.65" text-anchor="end">30</text>
<text x="88.3" y="56.9" text-anchor="end">40</text>
</g>
<text x="205.5" y="471.6" font-size="34.8" textLength="242.3" lengthAdjust="spacing">Wavelength (nm)</text>
<text transform="translate(40,331.2) rotate(-90)" font-size="34.8" textLength="222.5" lengthAdjust="spacing">Reflectance (%)</text>
<text x="-1.9" y="34.6" font-size="46.2">(a)</text>
</g>
<g>
<clipPath id="clip_b"><rect x="681.7" y="46.1" width="434" height="357.6"/></clipPath>
<g clip-path="url(#clip_b)" fill="none" stroke-width="3.6" stroke-linejoin="round" stroke-linecap="butt">
<path d="M681.7,332.9C683.51,332.3 685.32,331.6 687.12,331.11C689.66,330.42 692.19,329.96 694.72,329.68C699.42,329.14 704.12,329.79 708.83,330.03C717.87,330.51 726.91,332.1 735.95,332.9C746.8,333.84 757.65,334.56 768.5,335.04C779.35,335.52 790.2,335.49 801.05,335.76C810.09,335.98 819.13,336.77 828.18,336.47C833.42,336.3 838.66,336.35 843.91,335.4C848.54,334.55 853.17,334.24 857.8,331.46C861.23,329.41 864.67,326.62 868.1,322.88C871.18,319.53 874.25,315.52 877.33,310.72C880.94,305.08 884.56,297.37 888.18,290.7C891.79,284.02 895.41,276.39 899.03,270.67C902.64,264.95 906.26,260.49 909.88,256.37C913.31,252.45 916.75,249.1 920.18,246.36C923.62,243.61 927.05,242.02 930.49,239.92C934.9,237.22 939.32,234.51 943.73,232.05C950.42,228.33 957.11,226.53 963.8,222.04C971.03,217.19 978.27,210.12 985.5,203.44C992.73,196.77 999.97,189.59 1007.2,181.99C1012.62,176.28 1018.05,169.23 1023.48,164.11C1028.18,159.67 1032.88,155.55 1037.58,152.66C1041.2,150.45 1044.81,148.73 1048.43,147.66C1051.69,146.7 1054.94,146.24 1058.2,146.23C1062.9,146.21 1067.6,147.62 1072.3,149.09C1077.73,150.79 1083.15,153.5 1088.58,156.24C1094,158.98 1099.42,162.15 1104.85,165.54C1108.47,167.8 1112.08,170.31 1115.7,172.69" stroke="#0000ff"/>
<path d="M681.7,287.84C683.51,287.12 685.32,286.25 687.12,285.69C689.66,284.91 692.19,284.55 694.72,284.26C699.42,283.73 704.12,284.43 708.83,284.62C717.87,284.97 726.91,285.9 735.95,286.41C746.8,287.01 757.65,287.42 768.5,287.84C779.35,288.25 790.2,288.51 801.05,288.91C810.09,289.24 819.13,290.37 828.18,289.98C833.42,289.76 838.66,289.64 843.91,288.55C848.54,287.6 853.17,287.27 857.8,284.26C861.23,282.03 864.67,278.96 868.1,274.96C871.18,271.39 874.25,267.2 877.33,262.09C880.94,256.08 884.56,247.31 888.18,240.63C891.79,233.96 895.41,227.28 899.03,222.04C902.64,216.79 906.26,212.8 909.88,209.17C913.31,205.71 916.75,202.97 920.18,200.58C923.62,198.2 927.05,196.83 930.49,194.86C934.9,192.34 939.32,189.51 943.73,186.99C950.42,183.18 957.11,180.46 963.8,176.27C971.03,171.74 978.27,166.49 985.5,160.53C992.73,154.57 999.97,147.36 1007.2,140.51C1012.62,135.36 1018.05,129.56 1023.48,124.77C1028.18,120.62 1032.88,116.04 1037.58,113.33C1041.2,111.24 1044.81,109.92 1048.43,109.04C1051.69,108.24 1054.94,107.94 1058.2,107.96C1062.9,108 1067.6,109.06 1072.3,110.47C1077.73,112.09 1083.15,114.88 1088.58,117.62C1094,120.36 1099.42,123.75 1104.85,126.92C1108.47,129.03 1112.08,131.21 1115.7,133.35" stroke="#ff0000"/>
<path d="M681.7,257.08C682.42,253.51 683.15,249.65 683.87,246.36C684.96,241.42 686.04,237.16 687.12,233.48C688.57,228.58 690.02,225.01 691.47,222.04C693.27,218.33 695.08,216.64 696.89,214.89C699.06,212.78 701.23,212.11 703.4,211.31C707.02,209.98 710.63,210.75 714.25,210.6C721.48,210.28 728.72,210.47 735.95,210.6C746.8,210.79 757.65,211.55 768.5,212.03C779.35,212.5 790.2,212.62 801.05,213.46C810.09,214.16 819.13,216.1 828.18,216.32C833.42,216.45 838.66,216.52 843.91,215.96C848.54,215.47 853.17,215.66 857.8,213.46C861.23,211.82 864.67,209.4 868.1,206.3C871.18,203.54 874.25,200.33 877.33,196.29C880.94,191.54 884.56,184.37 888.18,179.13C891.79,173.88 895.41,168.88 899.03,164.82C902.64,160.77 906.26,157.59 909.88,154.81C913.31,152.17 916.75,150.16 920.18,148.37C923.62,146.59 927.05,145.46 930.49,144.08C934.9,142.32 939.32,140.77 943.73,139.08C946.8,137.9 949.88,136.61 952.95,135.5C956.57,134.19 960.18,133.59 963.8,131.92C967.42,130.26 971.03,127.63 974.65,125.49C978.27,123.34 981.88,121.32 985.5,119.05C989.12,116.79 992.73,114.52 996.35,111.9C999.97,109.28 1003.58,106.14 1007.2,103.32C1011.54,99.93 1015.88,95.88 1020.22,93.3C1024.92,90.51 1029.62,89.01 1034.33,87.58C1039.03,86.15 1043.73,85.31 1048.43,84.72C1051.69,84.31 1054.94,83.88 1058.2,84.01C1062.9,84.19 1067.6,85.49 1072.3,86.87C1077.73,88.45 1083.15,90.8 1088.58,93.3C1094,95.81 1099.42,99.24 1104.85,101.89C1108.47,103.65 1112.08,105.22 1115.7,106.89" stroke="#000000"/>
</g>
<path d="M681.7,403.7v-6.5M735.95,403.7v-3.6M790.2,403.7v-6.5M844.45,403.7v-3.6M898.7,403.7v-6.5M952.95,403.7v-3.6M1007.2,403.7v-6.5M1061.45,403.7v-3.6M1115.7,403.7v-6.5M681.7,403.7h6.5M681.7,367.94h3.6M681.7,332.18h6.5M681.7,296.42h3.6M681.7,260.66h6.5M681.7,224.9h3.6M681.7,189.14h6.5M681.7,153.38h3.6M681.7,117.62h6.5M681.7,81.86h3.6M681.7,46.1h6.5" stroke="#000" stroke-width="2.4" fill="none"/>
<rect x="681.7" y="46.1" width="434" height="357.6" fill="none" stroke="#000" stroke-width="2.55"/>
<g font-size="35.4" fill="#000">
<text x="681.7" y="442.7" text-anchor="middle">400</text>
<text x="790.35" y="442.7" text-anchor="middle">500</text>
<text x="899" y="442.7" text-anchor="middle">600</text>
<text x="1007.65" y="442.7" text-anchor="middle">700</text>
<text x="1116.3" y="442.7" text-anchor="middle">800</text>
<text x="675" y="414.9" text-anchor="end">0</text>
<text x="675" y="343.38" text-anchor="end">10</text>
<text x="675" y="271.86" text-anchor="end">20</text>
<text x="675" y="200.34" text-anchor="end">30</text>
<text x="675" y="128.82" text-anchor="end">40</text>
<text x="675" y="57.3" text-anchor="end">50</text>
</g>
<text x="787" y="472.8" font-size="34.8" textLength="241" lengthAdjust="spacing">Wavelength (nm)</text>
<text transform="translate(625.5,327.8) rotate(-90)" font-size="34.8" textLength="223" lengthAdjust="spacing">Reflectance (%)</text>
<text x="585.8" y="34.5" font-size="46.2">(b)</text>
</g>
<g>
<clipPath id="clip_c"><rect x="1259.6" y="46.5" width="432" height="357.9"/></clipPath>
<g clip-path="url(#clip_c)" fill="none" stroke-width="3.6" stroke-linejoin="round" stroke-linecap="butt">
<path d="M1259.6,350.71C1262.48,349.12 1265.36,347.25 1268.24,345.94C1271.84,344.31 1275.44,343.54 1279.04,342.36C1283.36,340.95 1287.68,340.02 1292,338.19C1297.4,335.9 1302.8,333.12 1308.2,329.24C1313.6,325.36 1319,320.34 1324.4,314.92C1331.6,307.71 1338.8,298.6 1346,289.87C1351.4,283.32 1356.8,275.95 1362.2,269.59C1367.6,263.23 1373,258.2 1378.4,251.7C1382,247.36 1385.6,241.7 1389.2,237.98C1391.72,235.37 1394.24,232.8 1396.76,231.41C1398.92,230.23 1401.08,229.55 1403.24,229.63C1405.76,229.71 1408.28,230.62 1410.8,232.61C1413.68,234.88 1416.56,238.77 1419.44,243.34C1422.32,247.92 1425.2,254.11 1428.08,260.05C1431.32,266.73 1434.56,274.96 1437.8,281.52C1441.04,288.08 1444.28,294.64 1447.52,299.42C1450.76,304.19 1454,307.47 1457.24,310.15C1460.48,312.84 1463.72,314.09 1466.96,315.52C1469.84,316.8 1472.72,317.21 1475.6,318.5C1478.48,319.8 1481.36,321.69 1484.24,323.28C1487.84,325.26 1491.44,327.78 1495.04,329.24C1499.36,330.99 1503.68,331.77 1508,332.22C1511.6,332.6 1515.2,332.34 1518.8,332.22C1523.12,332.09 1527.44,331.26 1531.76,331.33C1536.44,331.4 1541.12,332.07 1545.8,332.82C1550.48,333.57 1555.16,335.22 1559.84,335.8C1562.72,336.16 1565.6,336.54 1568.48,336.4C1571.72,336.24 1574.96,336.07 1578.2,334.61C1581.08,333.31 1583.96,331.63 1586.84,328.64C1589.36,326.03 1591.88,322.98 1594.4,318.5C1596.92,314.03 1599.44,308.1 1601.96,301.8C1604.84,294.6 1607.72,285.06 1610.6,277.35C1614.2,267.71 1617.8,258.75 1621.4,250.5C1625,242.25 1628.6,235.19 1632.2,227.84C1635.8,220.48 1639.4,213.32 1643,206.36C1646.6,199.4 1650.2,192.15 1653.8,186.08C1657.4,180.02 1661,174.15 1664.6,169.98C1668.2,165.8 1671.8,163.26 1675.4,161.03C1677.92,159.47 1680.44,158.41 1682.96,157.45C1685.84,156.35 1688.72,155.86 1691.6,155.06" stroke="#0000ff"/>
<path d="M1259.6,319.1C1262.48,315.72 1265.36,311.54 1268.24,308.96C1271.84,305.73 1275.44,304.83 1279.04,303C1283.36,300.79 1287.68,299.41 1292,297.03C1297.4,294.06 1302.8,290.47 1308.2,286.29C1313.6,282.12 1319,277 1324.4,271.98C1331.6,265.27 1338.8,257.66 1346,250.5C1351.4,245.13 1356.8,239.27 1362.2,234.4C1367.6,229.53 1373,225.89 1378.4,221.27C1382,218.2 1385.6,214.38 1389.2,211.73C1391.72,209.88 1394.24,207.97 1396.76,206.96C1399.64,205.8 1402.52,205.47 1405.4,205.77C1407.92,206.03 1410.44,206.67 1412.96,208.15C1415.84,209.84 1418.72,212.63 1421.6,215.91C1424.48,219.19 1427.36,223.56 1430.24,227.84C1433.12,232.11 1436,237.39 1438.88,241.56C1442.12,246.24 1445.36,250.7 1448.6,254.08C1451.84,257.46 1455.08,259.91 1458.32,261.84C1461.2,263.55 1464.08,264.42 1466.96,265.42C1469.84,266.41 1472.72,266.61 1475.6,267.8C1478.48,268.99 1481.36,270.98 1484.24,272.57C1487.84,274.56 1491.44,277 1495.04,278.54C1499.36,280.38 1503.68,281.58 1508,282.12C1511.6,282.57 1515.2,282.27 1518.8,282.12C1523.12,281.94 1527.44,280.87 1531.76,280.92C1536.44,280.99 1541.12,281.92 1545.8,282.71C1550.48,283.51 1555.16,285.12 1559.84,285.7C1562.72,286.05 1565.6,286.44 1568.48,286.29C1571.72,286.13 1574.96,285.85 1578.2,284.5C1581.08,283.31 1583.96,282.03 1586.84,279.13C1589.36,276.6 1591.88,273.37 1594.4,268.99C1596.92,264.62 1599.44,258.92 1601.96,252.89C1604.84,246 1607.72,236.48 1610.6,229.63C1614.2,221.06 1617.8,214.41 1621.4,208.15C1625,201.89 1628.6,197.12 1632.2,192.05C1635.8,186.98 1639.4,182.3 1643,177.73C1646.6,173.16 1650.2,168.68 1653.8,164.61C1657.4,160.53 1661,156.26 1664.6,153.27C1668.2,150.29 1671.8,148.45 1675.4,146.71C1677.92,145.5 1680.44,144.5 1682.96,143.73C1685.84,142.85 1688.72,142.54 1691.6,141.94" stroke="#ff0000"/>
<path d="M1259.6,273.17C1260.32,269.19 1261.04,265 1261.76,261.24C1262.84,255.59 1263.92,250.22 1265,245.73C1266.44,239.75 1267.88,235.34 1269.32,231.41C1271.12,226.51 1272.92,223.68 1274.72,220.68C1276.88,217.07 1279.04,214.65 1281.2,212.33C1284.8,208.46 1288.4,207.24 1292,204.57C1297.4,200.58 1302.8,196.82 1308.2,192.05C1313.6,187.27 1319,181.12 1324.4,175.94C1331.6,169.04 1338.8,162.4 1346,156.26C1351.4,151.65 1356.8,147.11 1362.2,143.13C1367.6,139.16 1373,136.15 1378.4,132.4C1382,129.89 1385.6,126.76 1389.2,124.64C1392.08,122.95 1394.96,121.36 1397.84,120.47C1400.36,119.69 1402.88,119.07 1405.4,119.27C1407.92,119.47 1410.44,120.26 1412.96,121.66C1415.84,123.26 1418.72,125.93 1421.6,128.82C1424.48,131.7 1427.36,135.38 1430.24,138.96C1433.12,142.54 1436,146.79 1438.88,150.29C1442.12,154.23 1445.36,158.05 1448.6,161.03C1451.84,164.01 1455.08,166.23 1458.32,168.19C1461.2,169.92 1464.08,171.27 1466.96,172.36C1469.84,173.46 1472.72,173.6 1475.6,174.75C1479.2,176.18 1482.8,178.72 1486.4,180.71C1490,182.7 1493.6,185.18 1497.2,186.68C1501.52,188.48 1505.84,189.35 1510.16,189.96C1514.84,190.62 1519.52,189.99 1524.2,190.26C1527.8,190.46 1531.4,190.68 1535,191.15C1539.68,191.76 1544.36,192.73 1549.04,193.84C1553.36,194.85 1557.68,196.76 1562,197.41C1564.88,197.85 1567.76,198.21 1570.64,198.01C1573.52,197.81 1576.4,197.32 1579.28,196.22C1582.16,195.13 1585.04,194.01 1587.92,191.45C1590.44,189.21 1592.96,186.38 1595.48,182.5C1598,178.62 1600.52,173.17 1603.04,168.19C1605.92,162.49 1608.8,155.53 1611.68,150.29C1614.92,144.4 1618.16,139.86 1621.4,135.38C1625,130.4 1628.6,126.33 1632.2,122.26C1635.8,118.18 1639.4,114.6 1643,110.92C1646.6,107.24 1650.2,103.57 1653.8,100.19C1657.4,96.8 1661,93.42 1664.6,90.64C1668.2,87.86 1671.8,85.13 1675.4,83.48C1677.92,82.33 1680.44,81.76 1682.96,81.1C1685.84,80.33 1688.72,79.9 1691.6,79.31" stroke="#000000"/>
</g>
<path d="M1259.6,404.4v-6.5M1313.6,404.4v-3.6M1367.6,404.4v-6.5M1421.6,404.4v-3.6M1475.6,404.4v-6.5M1529.6,404.4v-3.6M1583.6,404.4v-6.5M1637.6,404.4v-3.6M1691.6,404.4v-6.5M1259.6,404.4h6.5M1259.6,374.57h3.6M1259.6,344.75h6.5M1259.6,314.92h3.6M1259.6,285.1h6.5M1259.6,255.27h3.6M1259.6,225.45h6.5M1259.6,195.62h3.6M1259.6,165.8h6.5M1259.6,135.98h3.6M1259.6,106.15h6.5M1259.6,76.32h3.6M1259.6,46.5h6.5" stroke="#000" stroke-width="2.4" fill="none"/>
<rect x="1259.6" y="46.5" width="432" height="357.9" fill="none" stroke="#000" stroke-width="2.55"/>
<g font-size="35.4" fill="#000">
<text x="1263.05" y="443.1" text-anchor="middle">400</text>
<text x="1371.27" y="443.1" text-anchor="middle">500</text>
<text x="1479.49" y="443.1" text-anchor="middle">600</text>
<text x="1587.71" y="443.1" text-anchor="middle">700</text>
<text x="1695.93" y="443.1" text-anchor="middle">800</text>
<text x="1250.8" y="415.6" text-anchor="end">0</text>
<text x="1250.8" y="355.95" text-anchor="end">10</text>
<text x="1250.8" y="296.3" text-anchor="end">20</text>
<text x="1250.8" y="236.65" text-anchor="end">30</text>
<text x="1250.8" y="177" text-anchor="end">40</text>
<text x="1250.8" y="117.35" text-anchor="end">50</text>
<text x="1250.8" y="57.7" text-anchor="end">60</text>
</g>
<text x="1366.3" y="472.8" font-size="34.8" textLength="240.6" lengthAdjust="spacing">Wavelength (nm)</text>
<text transform="translate(1204,329.3) rotate(-90)" font-size="34.8" textLength="222.5" lengthAdjust="spacing">Reflectance (%)</text>
<text x="1167" y="31.6" font-size="46.2">(c)</text>
</g>
</svg></body></html>
